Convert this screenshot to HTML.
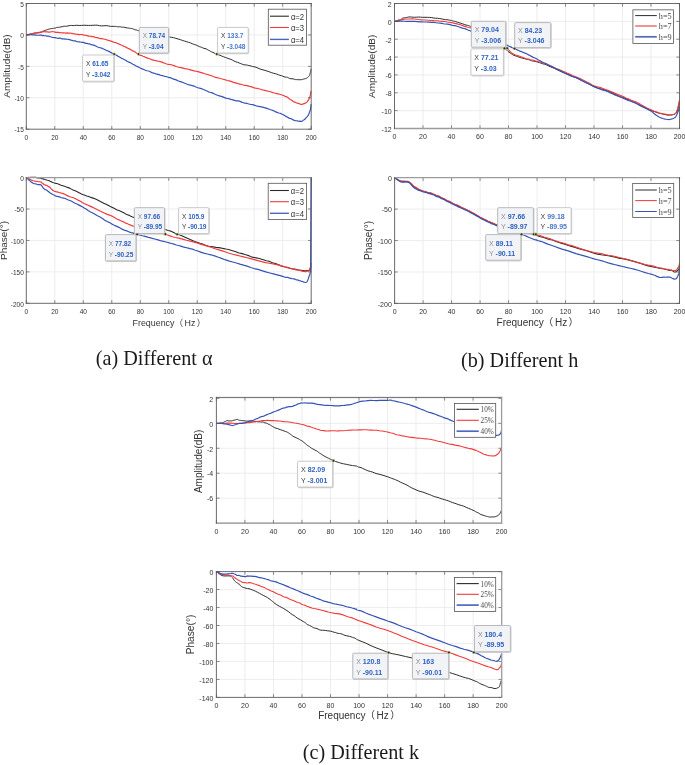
<!DOCTYPE html>
<html><head><meta charset="utf-8"><title>Frequency response</title>
<style>html,body{margin:0;padding:0;background:#fff;}svg{display:block;filter:blur(0.3px);}</style>
</head><body>
<svg width="685" height="765" viewBox="0 0 685 765" font-family='"Liberation Sans", Arial, sans-serif'>
<rect width="685" height="765" fill="#ffffff"/>
<line x1="54.79" y1="3.50" x2="54.79" y2="129.20" stroke="#e9e9e9" stroke-width="0.8"/>
<line x1="83.28" y1="3.50" x2="83.28" y2="129.20" stroke="#e9e9e9" stroke-width="0.8"/>
<line x1="111.77" y1="3.50" x2="111.77" y2="129.20" stroke="#e9e9e9" stroke-width="0.8"/>
<line x1="140.26" y1="3.50" x2="140.26" y2="129.20" stroke="#e9e9e9" stroke-width="0.8"/>
<line x1="168.75" y1="3.50" x2="168.75" y2="129.20" stroke="#e9e9e9" stroke-width="0.8"/>
<line x1="197.24" y1="3.50" x2="197.24" y2="129.20" stroke="#e9e9e9" stroke-width="0.8"/>
<line x1="225.73" y1="3.50" x2="225.73" y2="129.20" stroke="#e9e9e9" stroke-width="0.8"/>
<line x1="254.22" y1="3.50" x2="254.22" y2="129.20" stroke="#e9e9e9" stroke-width="0.8"/>
<line x1="282.71" y1="3.50" x2="282.71" y2="129.20" stroke="#e9e9e9" stroke-width="0.8"/>
<line x1="26.30" y1="97.77" x2="311.20" y2="97.77" stroke="#e9e9e9" stroke-width="0.8"/>
<line x1="26.30" y1="66.35" x2="311.20" y2="66.35" stroke="#e9e9e9" stroke-width="0.8"/>
<line x1="26.30" y1="34.92" x2="311.20" y2="34.92" stroke="#e9e9e9" stroke-width="0.8"/>
<polyline fill="none" stroke="#2a2a2a" stroke-width="1.0" stroke-linejoin="round" points="26.30,34.92 26.85,34.95 27.58,34.82 28.45,34.46 29.42,34.26 30.44,34.14 31.47,34.05 32.48,33.80 33.42,33.32 34.34,33.13 35.29,33.21 36.26,33.09 37.22,32.79 38.16,32.44 39.03,32.35 39.84,32.29 40.55,32.12 41.12,32.18 41.59,31.99 41.97,31.47 42.30,31.27 42.62,31.47 42.95,31.52 43.34,31.17 43.82,30.86 44.38,30.63 44.98,30.33 45.62,30.15 46.29,30.07 46.98,29.85 47.68,29.51 48.39,29.23 49.09,29.07 49.80,28.95 50.52,28.70 51.25,28.56 51.99,28.64 52.74,28.56 53.50,28.28 54.28,28.12 55.07,28.18 55.88,27.96 56.69,27.47 57.51,27.30 58.34,27.34 59.20,27.29 60.07,27.10 60.98,26.85 61.91,26.74 62.86,26.54 63.80,26.27 64.75,26.26 65.73,26.33 66.76,26.20 67.86,25.96 69.04,25.71 70.32,25.44 71.71,25.46 73.21,25.60 74.79,25.44 76.43,25.28 78.12,25.38 79.84,25.49 81.57,25.42 83.28,25.28 85.00,25.25 86.75,25.36 88.53,25.45 90.32,25.39 92.13,25.32 93.93,25.27 95.74,25.13 97.52,25.23 99.34,25.65 101.22,25.90 103.12,25.82 105.00,25.68 106.85,25.69 108.61,25.99 110.26,26.32 111.77,26.37 113.11,26.37 114.29,26.41 115.37,26.35 116.36,26.52 117.32,26.79 118.27,26.79 119.26,26.71 120.32,26.78 121.44,27.07 122.58,27.21 123.74,27.17 124.91,27.43 126.07,27.77 127.22,27.93 128.34,28.07 129.43,28.21 130.47,28.34 131.46,28.54 132.42,28.70 133.37,29.00 134.32,29.54 135.30,29.82 136.33,29.98 137.41,30.33 138.56,30.66 139.76,30.89 141.00,31.20 142.27,31.60 143.56,31.97 144.84,32.24 146.12,32.35 147.38,32.44 148.62,32.69 149.85,33.06 151.08,33.55 152.31,34.00 153.54,34.28 154.79,34.51 156.06,34.64 157.35,34.77 158.65,35.11 159.95,35.26 161.25,35.16 162.57,35.22 163.93,35.60 165.33,36.07 166.79,36.27 168.32,36.54 169.94,37.05 171.63,37.38 173.38,37.63 175.18,38.14 177.01,38.72 178.86,39.17 180.72,39.77 182.57,40.49 184.47,41.05 186.44,41.64 188.47,42.29 190.49,42.94 192.48,43.74 194.39,44.50 196.18,45.06 197.81,45.77 199.26,46.57 200.57,47.00 201.76,47.33 202.87,47.93 203.93,48.37 204.99,48.49 206.07,48.80 207.21,49.48 208.37,50.15 209.48,50.67 210.59,51.31 211.70,51.93 212.85,52.34 214.06,52.90 215.35,53.71 216.76,54.34 218.30,54.74 219.96,55.30 221.70,56.04 223.51,56.76 225.35,57.43 227.18,58.12 228.98,58.75 230.72,59.28 232.41,60.08 234.12,61.10 235.81,61.77 237.49,62.29 239.14,62.94 240.76,63.57 242.32,64.25 243.82,64.72 245.21,64.88 246.48,64.96 247.68,65.22 248.85,65.56 250.04,65.74 251.30,66.16 252.68,66.61 254.22,66.79 255.96,67.22 257.87,68.10 259.89,68.95 261.98,69.55 264.09,70.13 266.17,70.77 268.17,71.40 270.03,72.07 271.79,72.77 273.50,73.26 275.17,73.61 276.78,74.14 278.34,74.77 279.85,75.24 281.31,75.65 282.71,76.16 284.03,76.78 285.28,77.11 286.45,77.13 287.58,77.39 288.68,77.97 289.76,78.54 290.86,78.76 291.97,78.72 293.12,78.87 294.29,79.25 295.46,79.59 296.63,79.65 297.76,79.61 298.84,79.72 299.86,79.73 300.80,79.69 301.66,79.66 302.44,79.46 303.18,79.26 303.85,78.95 304.49,78.84 305.09,78.83 305.66,78.57 306.21,78.37 306.74,78.19 307.22,77.86 307.67,77.37 308.08,76.89 308.47,76.59 308.83,76.34 309.17,75.94 309.49,75.46 309.79,74.67 310.07,73.59 310.32,72.60 310.55,71.54 310.75,70.51 310.93,69.85 311.08,69.50 311.20,68.86"/>
<polyline fill="none" stroke="#f23a3a" stroke-width="1.2" stroke-linejoin="round" points="26.30,34.92 26.73,35.03 27.28,34.51 27.93,34.34 28.67,34.49 29.46,34.42 30.30,34.10 31.15,33.81 32.00,33.70 32.86,33.59 33.77,33.30 34.72,32.99 35.70,32.82 36.70,32.76 37.70,32.80 38.70,32.84 39.69,32.67 40.68,32.36 41.68,32.11 42.69,31.89 43.70,31.70 44.71,31.71 45.71,31.84 46.70,31.87 47.67,31.96 48.62,32.12 49.57,32.07 50.51,31.94 51.44,31.77 52.36,31.69 53.28,31.76 54.18,31.86 55.07,32.13 55.95,32.40 56.79,32.30 57.61,32.22 58.43,32.46 59.26,32.62 60.11,32.67 60.99,32.77 61.91,32.81 62.91,32.76 63.96,32.78 65.06,33.04 66.18,33.07 67.28,32.92 68.36,33.08 69.38,33.22 70.32,33.20 71.16,33.26 71.93,33.45 72.64,33.64 73.32,33.72 73.99,33.77 74.67,33.86 75.38,34.10 76.16,34.24 76.99,34.18 77.85,34.32 78.73,34.57 79.64,34.62 80.55,34.52 81.47,34.50 82.38,34.69 83.28,34.90 84.18,35.05 85.08,35.27 85.99,35.45 86.89,35.62 87.79,35.80 88.68,36.06 89.55,36.21 90.40,36.23 91.22,36.39 91.99,36.60 92.74,36.71 93.48,36.71 94.23,36.84 95.00,37.23 95.81,37.60 96.67,37.62 97.59,37.67 98.56,38.07 99.56,38.44 100.59,38.56 101.62,38.62 102.65,38.79 103.67,38.97 104.65,39.24 105.60,39.45 106.55,39.75 107.49,40.12 108.42,40.29 109.34,40.66 110.26,41.05 111.16,41.13 112.05,41.42 112.94,41.91 113.82,42.22 114.69,42.40 115.54,42.54 116.40,42.81 117.24,43.23 118.07,43.61 118.89,43.99 119.70,44.39 120.49,44.68 121.27,44.99 122.04,45.25 122.81,45.69 123.59,46.23 124.37,46.45 125.16,46.82 125.96,47.38 126.78,47.68 127.59,48.08 128.41,48.65 129.23,48.88 130.06,49.13 130.89,49.74 131.71,50.39 132.55,50.82 133.39,51.09 134.24,51.46 135.09,51.95 135.93,52.62 136.77,53.32 137.60,53.86 138.41,54.32 139.20,54.72 139.96,55.09 140.72,55.36 141.46,55.52 142.21,55.80 142.97,56.21 143.74,56.45 144.53,56.69 145.34,57.23 146.15,57.66 146.96,57.85 147.78,58.17 148.63,58.53 149.50,58.77 150.42,59.13 151.37,59.57 152.37,59.83 153.42,60.09 154.49,60.30 155.60,60.50 156.73,60.86 157.88,61.08 159.04,61.25 160.20,61.56 161.36,61.91 162.52,62.33 163.68,62.83 164.86,63.30 166.07,63.79 167.33,64.22 168.65,64.41 170.03,64.51 171.49,64.80 173.01,65.27 174.58,65.85 176.20,66.46 177.86,67.01 179.55,67.39 181.26,67.69 183.00,68.15 184.77,68.58 186.60,68.82 188.46,69.26 190.36,69.81 192.26,70.35 194.14,70.91 196.00,71.26 197.81,71.57 199.57,72.06 201.30,72.57 203.00,73.12 204.68,73.72 206.37,74.22 208.05,74.70 209.76,75.22 211.49,75.77 213.24,76.52 215.01,77.19 216.79,77.59 218.57,77.97 220.36,78.51 222.16,78.99 223.95,79.39 225.73,79.98 227.51,80.54 229.29,80.88 231.07,81.41 232.85,82.08 234.63,82.55 236.41,83.08 238.19,83.69 239.97,84.05 241.76,84.46 243.54,85.04 245.32,85.31 247.10,85.63 248.88,86.19 250.66,86.60 252.44,87.15 254.22,87.87 256.00,88.24 257.78,88.47 259.56,88.98 261.34,89.55 263.12,89.98 264.90,90.43 266.68,90.90 268.46,91.27 270.29,91.74 272.19,92.42 274.12,92.98 276.03,93.34 277.89,93.80 279.65,94.25 281.27,94.73 282.71,95.22 283.96,95.75 285.04,96.30 286.00,96.63 286.85,96.91 287.63,97.31 288.37,97.94 289.09,98.69 289.83,99.28 290.54,99.75 291.18,99.97 291.76,100.18 292.33,100.75 292.89,101.33 293.47,101.65 294.11,101.86 294.82,102.10 295.62,102.51 296.51,102.90 297.44,103.11 298.40,103.39 299.35,103.78 300.28,104.15 301.15,104.35 301.94,104.40 302.66,104.22 303.33,103.84 303.96,103.57 304.56,103.39 305.12,103.10 305.65,102.86 306.16,102.71 306.64,102.42 307.09,101.97 307.51,101.38 307.90,100.68 308.25,100.25 308.59,99.83 308.90,99.04 309.20,98.25 309.49,97.47 309.77,96.79 310.04,96.26 310.29,95.40 310.52,94.14 310.73,92.88 310.92,91.93 311.08,91.28 311.20,90.86"/>
<polyline fill="none" stroke="#3553b5" stroke-width="1.2" stroke-linejoin="round" points="26.30,34.92 26.84,34.85 27.55,34.89 28.39,34.95 29.33,34.88 30.33,34.62 31.37,34.65 32.42,34.89 33.42,34.83 34.44,34.89 35.53,35.15 36.65,35.22 37.79,35.23 38.91,35.25 40.00,35.20 41.03,35.19 41.97,35.43 42.81,35.65 43.55,35.68 44.24,35.77 44.89,35.75 45.53,35.72 46.19,35.97 46.89,36.10 47.67,36.01 48.52,36.16 49.41,36.55 50.35,36.79 51.30,37.03 52.26,37.31 53.22,37.50 54.16,37.61 55.07,37.68 55.95,37.82 56.79,38.01 57.61,38.28 58.43,38.33 59.26,38.11 60.11,38.11 60.99,38.45 61.91,38.83 62.91,38.94 63.96,38.96 65.06,39.03 66.18,39.15 67.28,39.26 68.36,39.41 69.38,39.64 70.32,39.91 71.16,40.16 71.93,40.34 72.64,40.55 73.32,40.76 73.99,40.90 74.67,40.85 75.38,40.88 76.16,41.28 76.99,41.64 77.85,41.74 78.73,41.80 79.64,41.86 80.55,41.99 81.47,42.29 82.38,42.45 83.28,42.41 84.18,42.63 85.08,43.18 85.99,43.43 86.89,43.44 87.79,43.69 88.68,43.84 89.55,43.90 90.40,44.24 91.22,44.74 91.99,44.92 92.74,44.91 93.48,45.07 94.23,45.33 95.00,45.67 95.81,46.05 96.67,46.54 97.58,46.95 98.51,47.25 99.47,47.61 100.46,47.78 101.47,48.08 102.51,48.59 103.57,48.96 104.65,49.43 105.77,50.11 106.95,50.67 108.17,51.03 109.41,51.62 110.64,52.40 111.85,53.04 113.01,53.75 114.12,54.29 115.16,54.58 116.15,55.04 117.11,55.63 118.04,56.20 118.96,56.72 119.87,57.22 120.80,57.83 121.74,58.41 122.69,58.78 123.61,59.22 124.53,59.73 125.45,60.10 126.39,60.69 127.36,61.44 128.37,61.94 129.43,62.31 130.54,62.77 131.69,63.51 132.86,64.20 134.07,64.80 135.32,65.62 136.60,66.30 137.91,66.83 139.26,67.56 140.69,68.29 142.21,68.90 143.78,69.51 145.38,70.23 146.97,70.76 148.52,71.03 150.00,71.56 151.37,72.41 152.63,72.96 153.79,73.15 154.88,73.47 155.93,73.86 156.96,74.09 158.00,74.36 159.07,74.67 160.20,75.07 161.36,75.44 162.52,75.67 163.68,76.01 164.86,76.33 166.07,76.51 167.33,76.95 168.65,77.43 170.03,77.69 171.49,78.19 173.01,78.87 174.58,79.34 176.20,79.89 177.86,80.70 179.55,81.40 181.26,81.89 183.00,82.48 184.77,83.26 186.60,84.00 188.46,84.62 190.36,85.16 192.26,85.59 194.14,86.18 196.00,87.03 197.81,87.73 199.57,88.17 201.30,88.59 203.00,89.23 204.68,89.97 206.37,90.70 208.05,91.57 209.76,92.24 211.49,92.63 213.24,93.32 215.01,94.24 216.79,95.03 218.57,95.66 220.36,96.13 222.16,96.64 223.95,97.40 225.73,98.12 227.51,98.54 229.29,98.95 231.07,99.43 232.85,99.86 234.63,100.36 236.41,100.81 238.19,100.95 239.97,101.35 241.76,102.15 243.54,102.79 245.32,103.13 247.10,103.45 248.88,103.99 250.66,104.38 252.44,104.63 254.22,105.19 256.03,105.79 257.87,106.20 259.73,106.55 261.58,106.94 263.40,107.40 265.17,107.84 266.87,108.36 268.46,108.98 269.96,109.55 271.38,110.00 272.72,110.41 274.01,111.01 275.26,111.60 276.47,112.10 277.67,112.61 278.86,113.02 280.03,113.27 281.15,113.65 282.24,114.29 283.31,114.79 284.36,115.37 285.41,116.10 286.47,116.64 287.55,117.20 288.67,117.86 289.81,118.32 290.96,118.65 292.11,119.22 293.24,119.88 294.34,120.35 295.40,120.66 296.39,120.77 297.31,120.86 298.19,121.16 299.03,121.28 299.83,121.19 300.60,121.28 301.35,121.32 302.08,121.10 302.80,120.63 303.50,120.05 304.20,119.75 304.88,119.28 305.54,118.43 306.16,117.71 306.75,117.16 307.29,116.59 307.78,115.97 308.22,115.39 308.60,114.69 308.94,113.73 309.24,112.89 309.51,112.21 309.76,111.48 309.99,110.92 310.20,110.54 310.40,109.72 310.58,108.56 310.72,107.62 310.85,106.72 310.96,105.83 311.05,105.13 311.13,104.60 311.20,104.06"/>
<line x1="26.30" y1="129.20" x2="26.30" y2="126.00" stroke="#5a5a5a" stroke-width="0.7"/>
<line x1="26.30" y1="3.50" x2="26.30" y2="6.70" stroke="#5a5a5a" stroke-width="0.7"/>
<line x1="54.79" y1="129.20" x2="54.79" y2="126.00" stroke="#5a5a5a" stroke-width="0.7"/>
<line x1="54.79" y1="3.50" x2="54.79" y2="6.70" stroke="#5a5a5a" stroke-width="0.7"/>
<line x1="83.28" y1="129.20" x2="83.28" y2="126.00" stroke="#5a5a5a" stroke-width="0.7"/>
<line x1="83.28" y1="3.50" x2="83.28" y2="6.70" stroke="#5a5a5a" stroke-width="0.7"/>
<line x1="111.77" y1="129.20" x2="111.77" y2="126.00" stroke="#5a5a5a" stroke-width="0.7"/>
<line x1="111.77" y1="3.50" x2="111.77" y2="6.70" stroke="#5a5a5a" stroke-width="0.7"/>
<line x1="140.26" y1="129.20" x2="140.26" y2="126.00" stroke="#5a5a5a" stroke-width="0.7"/>
<line x1="140.26" y1="3.50" x2="140.26" y2="6.70" stroke="#5a5a5a" stroke-width="0.7"/>
<line x1="168.75" y1="129.20" x2="168.75" y2="126.00" stroke="#5a5a5a" stroke-width="0.7"/>
<line x1="168.75" y1="3.50" x2="168.75" y2="6.70" stroke="#5a5a5a" stroke-width="0.7"/>
<line x1="197.24" y1="129.20" x2="197.24" y2="126.00" stroke="#5a5a5a" stroke-width="0.7"/>
<line x1="197.24" y1="3.50" x2="197.24" y2="6.70" stroke="#5a5a5a" stroke-width="0.7"/>
<line x1="225.73" y1="129.20" x2="225.73" y2="126.00" stroke="#5a5a5a" stroke-width="0.7"/>
<line x1="225.73" y1="3.50" x2="225.73" y2="6.70" stroke="#5a5a5a" stroke-width="0.7"/>
<line x1="254.22" y1="129.20" x2="254.22" y2="126.00" stroke="#5a5a5a" stroke-width="0.7"/>
<line x1="254.22" y1="3.50" x2="254.22" y2="6.70" stroke="#5a5a5a" stroke-width="0.7"/>
<line x1="282.71" y1="129.20" x2="282.71" y2="126.00" stroke="#5a5a5a" stroke-width="0.7"/>
<line x1="282.71" y1="3.50" x2="282.71" y2="6.70" stroke="#5a5a5a" stroke-width="0.7"/>
<line x1="311.20" y1="129.20" x2="311.20" y2="126.00" stroke="#5a5a5a" stroke-width="0.7"/>
<line x1="311.20" y1="3.50" x2="311.20" y2="6.70" stroke="#5a5a5a" stroke-width="0.7"/>
<line x1="26.30" y1="129.20" x2="29.50" y2="129.20" stroke="#5a5a5a" stroke-width="0.7"/>
<line x1="311.20" y1="129.20" x2="308.00" y2="129.20" stroke="#5a5a5a" stroke-width="0.7"/>
<line x1="26.30" y1="97.77" x2="29.50" y2="97.77" stroke="#5a5a5a" stroke-width="0.7"/>
<line x1="311.20" y1="97.77" x2="308.00" y2="97.77" stroke="#5a5a5a" stroke-width="0.7"/>
<line x1="26.30" y1="66.35" x2="29.50" y2="66.35" stroke="#5a5a5a" stroke-width="0.7"/>
<line x1="311.20" y1="66.35" x2="308.00" y2="66.35" stroke="#5a5a5a" stroke-width="0.7"/>
<line x1="26.30" y1="34.92" x2="29.50" y2="34.92" stroke="#5a5a5a" stroke-width="0.7"/>
<line x1="311.20" y1="34.92" x2="308.00" y2="34.92" stroke="#5a5a5a" stroke-width="0.7"/>
<line x1="26.30" y1="3.50" x2="29.50" y2="3.50" stroke="#5a5a5a" stroke-width="0.7"/>
<line x1="311.20" y1="3.50" x2="308.00" y2="3.50" stroke="#5a5a5a" stroke-width="0.7"/>
<line x1="26.30" y1="3.50" x2="311.20" y2="3.50" stroke="#5a5a5a" stroke-width="0.9" stroke-linecap="square"/>
<line x1="26.30" y1="129.20" x2="311.20" y2="129.20" stroke="#5a5a5a" stroke-width="0.9" stroke-linecap="square"/>
<line x1="26.30" y1="3.50" x2="26.30" y2="129.20" stroke="#5a5a5a" stroke-width="0.9" stroke-linecap="square"/>
<line x1="311.20" y1="3.50" x2="311.20" y2="129.20" stroke="#5a5a5a" stroke-width="0.9" stroke-linecap="square"/>
<text transform="translate(26.30,139.80) scale(0.880,1)" font-size="7.4" text-anchor="middle" fill="#333333">0</text>
<text transform="translate(54.79,139.80) scale(0.880,1)" font-size="7.4" text-anchor="middle" fill="#333333">20</text>
<text transform="translate(83.28,139.80) scale(0.880,1)" font-size="7.4" text-anchor="middle" fill="#333333">40</text>
<text transform="translate(111.77,139.80) scale(0.880,1)" font-size="7.4" text-anchor="middle" fill="#333333">60</text>
<text transform="translate(140.26,139.80) scale(0.880,1)" font-size="7.4" text-anchor="middle" fill="#333333">80</text>
<text transform="translate(168.75,139.80) scale(0.880,1)" font-size="7.4" text-anchor="middle" fill="#333333">100</text>
<text transform="translate(197.24,139.80) scale(0.880,1)" font-size="7.4" text-anchor="middle" fill="#333333">120</text>
<text transform="translate(225.73,139.80) scale(0.880,1)" font-size="7.4" text-anchor="middle" fill="#333333">140</text>
<text transform="translate(254.22,139.80) scale(0.880,1)" font-size="7.4" text-anchor="middle" fill="#333333">160</text>
<text transform="translate(282.71,139.80) scale(0.880,1)" font-size="7.4" text-anchor="middle" fill="#333333">180</text>
<text transform="translate(311.20,139.80) scale(0.880,1)" font-size="7.4" text-anchor="middle" fill="#333333">200</text>
<text transform="translate(23.80,132.36) scale(0.880,1)" font-size="7.4" text-anchor="end" fill="#333333">-15</text>
<text transform="translate(23.80,100.94) scale(0.880,1)" font-size="7.4" text-anchor="end" fill="#333333">-10</text>
<text transform="translate(23.80,69.51) scale(0.880,1)" font-size="7.4" text-anchor="end" fill="#333333">-5</text>
<text transform="translate(23.80,38.09) scale(0.880,1)" font-size="7.4" text-anchor="end" fill="#333333">0</text>
<text transform="translate(23.80,6.66) scale(0.880,1)" font-size="7.4" text-anchor="end" fill="#333333">5</text>
<text transform="translate(9.90,66.00) scale(0.880,1) rotate(-90)" font-size="10.0" text-anchor="middle" fill="#333333">Amplitude(dB)</text>
<rect x="268.30" y="9.20" width="38.10" height="36.00" fill="#ffffff" stroke="#555555" stroke-width="0.8"/>
<line x1="270.00" y1="16.20" x2="288.90" y2="16.20" stroke="#2a2a2a" stroke-width="1.1"/>
<text transform="translate(290.90,19.70) scale(0.840,1)" font-size="9.2" fill="#333333" font-family='"Liberation Sans", Arial, sans-serif'>α=2</text>
<line x1="270.00" y1="27.50" x2="288.90" y2="27.50" stroke="#f23a3a" stroke-width="1.1"/>
<text transform="translate(290.90,31.00) scale(0.840,1)" font-size="9.2" fill="#333333" font-family='"Liberation Sans", Arial, sans-serif'>α=3</text>
<line x1="270.00" y1="39.40" x2="288.90" y2="39.40" stroke="#4a64c0" stroke-width="1.4"/>
<text transform="translate(290.90,42.90) scale(0.840,1)" font-size="9.2" fill="#333333" font-family='"Liberation Sans", Arial, sans-serif'>α=4</text>
<rect x="83.10" y="55.60" width="31.15" height="26.20" rx="1.2" fill="none" stroke="#d0d0d0" stroke-width="1.2"/>
<rect x="82.60" y="55.00" width="31.15" height="26.20" rx="1" fill="#ffffff" stroke="#c4c4c4" stroke-width="0.9"/>
<text x="86.00" y="66.21" font-size="6.5" fill="#3a3a3a">X <tspan fill="#2f62c0" font-weight="bold">61.65</tspan></text>
<text x="86.00" y="76.88" font-size="6.5" fill="#3a3a3a">Y <tspan fill="#2f62c0" font-weight="bold">-3.042</tspan></text>
<rect x="139.80" y="28.00" width="29.20" height="25.60" rx="1.2" fill="none" stroke="#d0d0d0" stroke-width="1.2"/>
<rect x="139.30" y="27.40" width="29.20" height="25.60" rx="1" fill="#f1f3f7" stroke="#b4b4b4" stroke-width="0.9"/>
<text x="142.70" y="38.36" font-size="6.5" fill="#8f8f8f">X <tspan fill="#2f62c0" font-weight="bold">78.74</tspan></text>
<text x="142.70" y="48.78" font-size="6.5" fill="#8f8f8f">Y <tspan fill="#2f62c0" font-weight="bold">-3.04</tspan></text>
<rect x="218.10" y="28.00" width="30.60" height="25.60" rx="1.2" fill="none" stroke="#d0d0d0" stroke-width="1.2"/>
<rect x="217.60" y="27.40" width="30.60" height="25.60" rx="1" fill="#ffffff" stroke="#c4c4c4" stroke-width="0.9"/>
<text x="221.00" y="38.36" font-size="6.5" fill="#3a3a3a">X <tspan fill="#4a78cc" font-weight="bold">133.7</tspan></text>
<text x="221.00" y="48.78" font-size="6.5" fill="#3a3a3a">Y <tspan fill="#4a78cc" font-weight="bold">-3.048</tspan></text>
<line x1="423.00" y1="3.50" x2="423.00" y2="128.50" stroke="#e9e9e9" stroke-width="0.8"/>
<line x1="451.50" y1="3.50" x2="451.50" y2="128.50" stroke="#e9e9e9" stroke-width="0.8"/>
<line x1="480.00" y1="3.50" x2="480.00" y2="128.50" stroke="#e9e9e9" stroke-width="0.8"/>
<line x1="508.50" y1="3.50" x2="508.50" y2="128.50" stroke="#e9e9e9" stroke-width="0.8"/>
<line x1="537.00" y1="3.50" x2="537.00" y2="128.50" stroke="#e9e9e9" stroke-width="0.8"/>
<line x1="565.50" y1="3.50" x2="565.50" y2="128.50" stroke="#e9e9e9" stroke-width="0.8"/>
<line x1="594.00" y1="3.50" x2="594.00" y2="128.50" stroke="#e9e9e9" stroke-width="0.8"/>
<line x1="622.50" y1="3.50" x2="622.50" y2="128.50" stroke="#e9e9e9" stroke-width="0.8"/>
<line x1="651.00" y1="3.50" x2="651.00" y2="128.50" stroke="#e9e9e9" stroke-width="0.8"/>
<line x1="394.50" y1="110.64" x2="679.50" y2="110.64" stroke="#e9e9e9" stroke-width="0.8"/>
<line x1="394.50" y1="92.79" x2="679.50" y2="92.79" stroke="#e9e9e9" stroke-width="0.8"/>
<line x1="394.50" y1="74.93" x2="679.50" y2="74.93" stroke="#e9e9e9" stroke-width="0.8"/>
<line x1="394.50" y1="57.07" x2="679.50" y2="57.07" stroke="#e9e9e9" stroke-width="0.8"/>
<line x1="394.50" y1="39.21" x2="679.50" y2="39.21" stroke="#e9e9e9" stroke-width="0.8"/>
<line x1="394.50" y1="21.36" x2="679.50" y2="21.36" stroke="#e9e9e9" stroke-width="0.8"/>
<polyline fill="none" stroke="#2a2a2a" stroke-width="1.0" stroke-linejoin="round" points="394.50,21.36 394.92,21.05 395.47,20.97 396.13,20.79 396.87,20.61 397.65,20.63 398.43,20.66 399.20,20.49 399.92,20.12 400.55,19.69 401.14,19.33 401.70,18.91 402.28,18.43 402.89,18.04 403.59,17.85 404.39,17.82 405.33,17.68 406.39,17.49 407.53,17.26 408.75,16.99 410.06,16.94 411.46,17.08 412.97,17.20 414.58,17.28 416.30,17.20 418.21,17.05 420.33,17.16 422.59,17.33 424.93,17.31 427.29,17.33 429.61,17.44 431.81,17.65 433.83,18.02 435.71,18.27 437.52,18.29 439.26,18.47 440.93,18.81 442.53,19.09 444.07,19.38 445.54,19.61 446.94,19.71 448.22,19.89 449.35,20.14 450.38,20.29 451.37,20.42 452.35,20.77 453.38,21.12 454.50,21.25 455.77,21.58 457.26,22.16 458.93,22.68 460.71,23.25 462.53,23.82 464.32,24.44 466.00,25.04 467.50,25.39 468.74,25.68 469.69,26.03 470.39,26.31 470.92,26.45 471.33,26.63 471.70,26.84 472.09,26.94 472.55,27.18 473.16,27.42 473.90,27.44 474.69,27.58 475.54,28.01 476.41,28.50 477.31,28.79 478.21,28.98 479.11,29.28 480.00,29.69 480.88,30.10 481.76,30.57 482.65,31.24 483.54,31.93 484.44,32.46 485.34,32.97 486.23,33.40 487.12,33.73 488.03,34.38 488.94,35.28 489.86,35.93 490.78,36.55 491.68,37.31 492.57,38.02 493.43,38.63 494.25,39.14 495.04,39.74 495.80,40.45 496.54,41.13 497.26,41.96 497.96,42.79 498.64,43.27 499.30,43.69 499.95,44.26 500.55,44.96 501.09,45.60 501.59,45.98 502.09,46.26 502.60,46.77 503.16,47.40 503.79,47.83 504.52,48.21 505.33,48.80 506.19,49.55 507.09,50.49 508.04,51.44 509.07,52.17 510.17,52.94 511.36,53.82 512.63,54.66 514.06,55.38 515.65,55.89 517.35,56.51 519.12,57.17 520.89,57.72 522.62,58.27 524.25,58.62 525.74,58.92 527.06,59.26 528.24,59.56 529.33,59.88 530.37,60.27 531.42,60.72 532.51,61.03 533.69,61.13 535.00,61.32 536.43,61.73 537.91,62.18 539.45,62.60 541.05,63.18 542.72,63.79 544.45,64.18 546.25,64.80 548.12,65.73 550.11,66.64 552.26,67.53 554.50,68.48 556.80,69.55 559.10,70.63 561.34,71.65 563.50,72.58 565.50,73.29 567.34,73.89 569.06,74.68 570.68,75.58 572.26,76.33 573.82,76.86 575.40,77.35 577.03,78.08 578.75,78.93 580.58,79.81 582.47,80.75 584.41,81.72 586.38,82.77 588.34,83.76 590.28,84.73 592.18,85.82 594.00,86.61 595.74,87.15 597.41,87.90 599.03,88.52 600.63,88.77 602.22,89.11 603.85,89.65 605.51,90.22 607.25,90.95 609.08,91.61 610.97,92.14 612.91,92.98 614.88,94.01 616.84,94.97 618.78,95.91 620.68,96.70 622.50,97.23 624.24,97.91 625.91,98.72 627.53,99.36 629.13,100.01 630.72,100.67 632.35,101.46 634.01,102.31 635.75,103.07 637.59,103.92 639.52,104.84 641.51,105.78 643.52,106.83 645.51,107.94 647.44,109.05 649.28,109.95 651.00,110.60 652.60,111.11 654.12,111.49 655.57,111.97 656.96,112.56 658.29,113.04 659.56,113.43 660.79,113.61 661.97,113.72 663.10,114.07 664.15,114.47 665.15,114.60 666.10,114.72 667.01,115.08 667.90,115.19 668.78,115.05 669.67,115.03 670.56,115.07 671.46,115.05 672.35,114.85 673.22,114.63 674.05,114.55 674.84,114.24 675.57,113.47 676.22,112.69 676.81,111.87 677.35,110.61 677.84,108.92 678.27,107.20 678.66,105.64 678.99,104.02 679.27,102.60 679.50,101.71"/>
<polyline fill="none" stroke="#f23a3a" stroke-width="1.1" stroke-linejoin="round" points="394.50,21.36 394.98,21.37 395.58,21.23 396.29,21.02 397.10,20.73 398.00,20.33 398.96,19.87 399.99,19.73 401.06,19.75 402.13,19.64 403.20,19.42 404.31,19.14 405.51,19.01 406.82,18.99 408.30,19.04 409.97,19.02 411.88,18.91 414.13,19.00 416.69,19.32 419.49,19.73 422.44,19.90 425.44,20.00 428.39,20.25 431.22,20.45 433.83,20.64 436.23,20.72 438.53,20.92 440.73,21.25 442.88,21.34 444.99,21.55 447.09,22.04 449.20,22.33 451.36,22.59 453.58,23.12 455.86,23.66 458.16,24.16 460.44,24.81 462.68,25.61 464.83,26.36 466.86,27.04 468.74,27.53 470.47,27.84 472.08,28.23 473.59,28.65 475.01,29.07 476.35,29.55 477.62,30.13 478.83,30.63 480.00,31.05 481.09,31.57 482.07,32.00 482.97,32.44 483.82,32.97 484.63,33.34 485.44,33.70 486.26,34.24 487.12,34.74 488.02,35.26 488.91,35.88 489.80,36.43 490.69,37.16 491.58,37.81 492.47,38.31 493.36,39.01 494.25,39.68 495.15,40.24 496.06,40.78 496.98,41.43 497.90,42.34 498.80,43.20 499.69,43.84 500.55,44.57 501.38,45.30 502.16,45.71 502.92,45.90 503.65,46.18 504.36,46.61 505.05,46.94 505.74,47.21 506.43,47.73 507.13,48.36 507.78,48.81 508.35,49.31 508.88,50.00 509.42,50.60 510.02,51.30 510.73,52.21 511.58,52.97 512.63,53.59 513.93,54.30 515.47,54.92 517.16,55.47 518.95,56.09 520.77,56.69 522.56,57.26 524.24,57.93 525.74,58.68 527.06,59.13 528.24,59.16 529.33,59.36 530.37,59.78 531.42,59.95 532.51,59.99 533.69,60.22 535.00,60.69 536.43,61.15 537.91,61.45 539.45,61.72 541.05,62.20 542.72,62.78 544.45,63.25 546.25,63.94 548.12,64.71 550.11,65.44 552.26,66.49 554.50,67.63 556.80,68.64 559.10,69.58 561.34,70.46 563.50,71.39 565.50,72.35 567.34,73.23 569.06,73.88 570.68,74.58 572.26,75.39 573.82,76.07 575.40,76.64 577.03,77.17 578.75,77.90 580.58,78.83 582.47,79.71 584.41,80.64 586.38,81.65 588.34,82.65 590.28,83.79 592.18,84.97 594.00,85.83 595.74,86.37 597.41,86.83 599.03,87.21 600.63,87.60 602.22,88.18 603.85,88.89 605.51,89.46 607.25,90.00 609.08,90.77 610.97,91.60 612.91,92.37 614.88,93.21 616.84,94.01 618.78,94.79 620.68,95.59 622.50,96.31 624.24,97.09 625.91,97.90 627.53,98.51 629.13,99.13 630.72,99.90 632.35,100.59 634.01,101.15 635.75,101.83 637.59,102.76 639.52,103.82 641.51,104.93 643.52,106.07 645.51,107.18 647.44,108.22 649.28,109.07 651.00,109.77 652.60,110.48 654.12,111.16 655.57,111.63 656.96,112.00 658.29,112.49 659.56,112.91 660.79,113.23 661.97,113.61 663.10,113.87 664.15,113.99 665.15,114.10 666.10,114.30 667.01,114.66 667.90,114.84 668.78,114.78 669.67,114.77 670.56,114.78 671.46,114.66 672.35,114.51 673.22,114.47 674.05,114.28 674.84,113.85 675.57,113.25 676.22,112.51 676.81,111.42 677.35,109.87 677.84,107.96 678.27,105.85 678.66,103.93 678.99,102.36 679.27,100.96 679.50,99.93"/>
<polyline fill="none" stroke="#3553b5" stroke-width="1.2" stroke-linejoin="round" points="394.50,21.36 395.81,21.52 397.52,21.34 399.55,21.13 401.82,21.09 404.27,21.24 406.81,21.34 409.37,21.37 411.88,21.41 414.46,21.47 417.21,21.57 420.07,21.78 422.99,21.94 425.89,21.99 428.71,22.18 431.38,22.34 433.83,22.45 436.07,22.73 438.16,22.99 440.13,23.15 442.00,23.46 443.80,23.78 445.56,23.99 447.31,24.09 449.08,24.36 450.86,24.94 452.64,25.41 454.39,25.66 456.11,25.95 457.78,26.47 459.38,27.05 460.91,27.57 462.33,28.11 463.63,28.42 464.82,28.67 465.91,29.08 466.94,29.52 467.94,30.03 468.94,30.43 469.95,30.69 471.02,31.09 472.13,31.59 473.26,32.11 474.39,32.48 475.52,32.70 476.65,33.18 477.78,33.75 478.90,34.23 480.00,34.67 481.09,35.18 482.17,35.81 483.24,36.27 484.30,36.67 485.36,37.24 486.42,37.70 487.48,38.14 488.55,38.64 489.62,39.06 490.68,39.61 491.74,40.30 492.80,40.70 493.86,41.01 494.93,41.46 496.01,41.79 497.10,42.27 498.21,42.83 499.33,43.09 500.46,43.23 501.59,43.48 502.73,43.73 503.86,44.09 504.98,44.51 506.08,44.75 507.14,45.18 508.16,45.72 509.16,46.20 510.16,46.67 511.18,47.12 512.23,47.74 513.34,48.31 514.53,48.79 515.80,49.30 517.14,49.83 518.53,50.47 519.96,51.09 521.41,51.60 522.87,52.21 524.32,52.89 525.74,53.43 527.15,54.06 528.55,54.86 529.95,55.58 531.36,56.36 532.77,57.14 534.17,57.69 535.59,58.28 537.00,59.10 538.38,59.93 539.71,60.58 541.01,61.18 542.33,61.96 543.70,62.71 545.15,63.29 546.70,64.08 548.40,65.07 550.29,65.95 552.36,66.87 554.56,68.01 556.83,69.15 559.12,70.23 561.36,71.36 563.51,72.52 565.50,73.54 567.33,74.33 569.04,75.14 570.66,75.94 572.24,76.48 573.81,76.91 575.39,77.47 577.03,78.11 578.75,78.88 580.58,79.87 582.47,81.00 584.41,82.03 586.38,82.84 588.34,83.76 590.28,84.82 592.18,85.71 594.00,86.60 595.74,87.47 597.41,88.09 599.03,88.67 600.63,89.27 602.22,89.89 603.85,90.34 605.51,90.64 607.25,91.34 609.08,92.32 610.97,93.11 612.91,93.91 614.88,94.89 616.84,95.80 618.78,96.56 620.68,97.27 622.50,97.97 624.24,98.68 625.91,99.39 627.53,100.15 629.13,100.76 630.72,101.30 632.35,101.94 634.01,102.54 635.75,103.31 637.62,104.33 639.63,105.39 641.71,106.46 643.79,107.48 645.83,108.37 647.75,109.29 649.50,110.23 651.00,111.02 652.22,111.88 653.20,112.79 653.99,113.49 654.68,114.02 655.31,114.48 655.96,115.06 656.69,115.56 657.56,116.00 658.55,116.69 659.61,117.28 660.71,117.69 661.84,118.16 662.99,118.51 664.14,118.83 665.28,119.11 666.39,119.24 667.51,119.48 668.67,119.56 669.85,119.40 671.01,119.20 672.14,118.90 673.21,118.54 674.20,118.08 675.08,117.46 675.87,116.53 676.59,115.21 677.25,113.54 677.83,112.00 678.35,110.72 678.81,109.37 679.19,108.04 679.50,107.25"/>
<line x1="394.50" y1="128.50" x2="394.50" y2="125.30" stroke="#5a5a5a" stroke-width="0.7"/>
<line x1="394.50" y1="3.50" x2="394.50" y2="6.70" stroke="#5a5a5a" stroke-width="0.7"/>
<line x1="423.00" y1="128.50" x2="423.00" y2="125.30" stroke="#5a5a5a" stroke-width="0.7"/>
<line x1="423.00" y1="3.50" x2="423.00" y2="6.70" stroke="#5a5a5a" stroke-width="0.7"/>
<line x1="451.50" y1="128.50" x2="451.50" y2="125.30" stroke="#5a5a5a" stroke-width="0.7"/>
<line x1="451.50" y1="3.50" x2="451.50" y2="6.70" stroke="#5a5a5a" stroke-width="0.7"/>
<line x1="480.00" y1="128.50" x2="480.00" y2="125.30" stroke="#5a5a5a" stroke-width="0.7"/>
<line x1="480.00" y1="3.50" x2="480.00" y2="6.70" stroke="#5a5a5a" stroke-width="0.7"/>
<line x1="508.50" y1="128.50" x2="508.50" y2="125.30" stroke="#5a5a5a" stroke-width="0.7"/>
<line x1="508.50" y1="3.50" x2="508.50" y2="6.70" stroke="#5a5a5a" stroke-width="0.7"/>
<line x1="537.00" y1="128.50" x2="537.00" y2="125.30" stroke="#5a5a5a" stroke-width="0.7"/>
<line x1="537.00" y1="3.50" x2="537.00" y2="6.70" stroke="#5a5a5a" stroke-width="0.7"/>
<line x1="565.50" y1="128.50" x2="565.50" y2="125.30" stroke="#5a5a5a" stroke-width="0.7"/>
<line x1="565.50" y1="3.50" x2="565.50" y2="6.70" stroke="#5a5a5a" stroke-width="0.7"/>
<line x1="594.00" y1="128.50" x2="594.00" y2="125.30" stroke="#5a5a5a" stroke-width="0.7"/>
<line x1="594.00" y1="3.50" x2="594.00" y2="6.70" stroke="#5a5a5a" stroke-width="0.7"/>
<line x1="622.50" y1="128.50" x2="622.50" y2="125.30" stroke="#5a5a5a" stroke-width="0.7"/>
<line x1="622.50" y1="3.50" x2="622.50" y2="6.70" stroke="#5a5a5a" stroke-width="0.7"/>
<line x1="651.00" y1="128.50" x2="651.00" y2="125.30" stroke="#5a5a5a" stroke-width="0.7"/>
<line x1="651.00" y1="3.50" x2="651.00" y2="6.70" stroke="#5a5a5a" stroke-width="0.7"/>
<line x1="679.50" y1="128.50" x2="679.50" y2="125.30" stroke="#5a5a5a" stroke-width="0.7"/>
<line x1="679.50" y1="3.50" x2="679.50" y2="6.70" stroke="#5a5a5a" stroke-width="0.7"/>
<line x1="394.50" y1="128.50" x2="397.70" y2="128.50" stroke="#5a5a5a" stroke-width="0.7"/>
<line x1="679.50" y1="128.50" x2="676.30" y2="128.50" stroke="#5a5a5a" stroke-width="0.7"/>
<line x1="394.50" y1="110.64" x2="397.70" y2="110.64" stroke="#5a5a5a" stroke-width="0.7"/>
<line x1="679.50" y1="110.64" x2="676.30" y2="110.64" stroke="#5a5a5a" stroke-width="0.7"/>
<line x1="394.50" y1="92.79" x2="397.70" y2="92.79" stroke="#5a5a5a" stroke-width="0.7"/>
<line x1="679.50" y1="92.79" x2="676.30" y2="92.79" stroke="#5a5a5a" stroke-width="0.7"/>
<line x1="394.50" y1="74.93" x2="397.70" y2="74.93" stroke="#5a5a5a" stroke-width="0.7"/>
<line x1="679.50" y1="74.93" x2="676.30" y2="74.93" stroke="#5a5a5a" stroke-width="0.7"/>
<line x1="394.50" y1="57.07" x2="397.70" y2="57.07" stroke="#5a5a5a" stroke-width="0.7"/>
<line x1="679.50" y1="57.07" x2="676.30" y2="57.07" stroke="#5a5a5a" stroke-width="0.7"/>
<line x1="394.50" y1="39.21" x2="397.70" y2="39.21" stroke="#5a5a5a" stroke-width="0.7"/>
<line x1="679.50" y1="39.21" x2="676.30" y2="39.21" stroke="#5a5a5a" stroke-width="0.7"/>
<line x1="394.50" y1="21.36" x2="397.70" y2="21.36" stroke="#5a5a5a" stroke-width="0.7"/>
<line x1="679.50" y1="21.36" x2="676.30" y2="21.36" stroke="#5a5a5a" stroke-width="0.7"/>
<line x1="394.50" y1="3.50" x2="397.70" y2="3.50" stroke="#5a5a5a" stroke-width="0.7"/>
<line x1="679.50" y1="3.50" x2="676.30" y2="3.50" stroke="#5a5a5a" stroke-width="0.7"/>
<line x1="394.50" y1="3.50" x2="679.50" y2="3.50" stroke="#5a5a5a" stroke-width="0.9" stroke-linecap="square"/>
<line x1="394.50" y1="128.50" x2="679.50" y2="128.50" stroke="#9c9c9c" stroke-width="1.3" stroke-linecap="square"/>
<line x1="394.50" y1="3.50" x2="394.50" y2="128.50" stroke="#5a5a5a" stroke-width="0.9" stroke-linecap="square"/>
<line x1="679.50" y1="3.50" x2="679.50" y2="128.50" stroke="#5a5a5a" stroke-width="0.9" stroke-linecap="square"/>
<text transform="translate(394.50,139.10) scale(0.950,1)" font-size="7.4" text-anchor="middle" fill="#333333">0</text>
<text transform="translate(423.00,139.10) scale(0.950,1)" font-size="7.4" text-anchor="middle" fill="#333333">20</text>
<text transform="translate(451.50,139.10) scale(0.950,1)" font-size="7.4" text-anchor="middle" fill="#333333">40</text>
<text transform="translate(480.00,139.10) scale(0.950,1)" font-size="7.4" text-anchor="middle" fill="#333333">60</text>
<text transform="translate(508.50,139.10) scale(0.950,1)" font-size="7.4" text-anchor="middle" fill="#333333">80</text>
<text transform="translate(537.00,139.10) scale(0.950,1)" font-size="7.4" text-anchor="middle" fill="#333333">100</text>
<text transform="translate(565.50,139.10) scale(0.950,1)" font-size="7.4" text-anchor="middle" fill="#333333">120</text>
<text transform="translate(594.00,139.10) scale(0.950,1)" font-size="7.4" text-anchor="middle" fill="#333333">140</text>
<text transform="translate(622.50,139.10) scale(0.950,1)" font-size="7.4" text-anchor="middle" fill="#333333">160</text>
<text transform="translate(651.00,139.10) scale(0.950,1)" font-size="7.4" text-anchor="middle" fill="#333333">180</text>
<text transform="translate(679.50,139.10) scale(0.950,1)" font-size="7.4" text-anchor="middle" fill="#333333">200</text>
<text transform="translate(391.70,132.06) scale(0.950,1)" font-size="7.4" text-anchor="end" fill="#333333">-12</text>
<text transform="translate(391.70,114.21) scale(0.950,1)" font-size="7.4" text-anchor="end" fill="#333333">-10</text>
<text transform="translate(391.70,96.35) scale(0.950,1)" font-size="7.4" text-anchor="end" fill="#333333">-8</text>
<text transform="translate(391.70,78.49) scale(0.950,1)" font-size="7.4" text-anchor="end" fill="#333333">-6</text>
<text transform="translate(391.70,60.64) scale(0.950,1)" font-size="7.4" text-anchor="end" fill="#333333">-4</text>
<text transform="translate(391.70,42.78) scale(0.950,1)" font-size="7.4" text-anchor="end" fill="#333333">-2</text>
<text transform="translate(391.70,24.92) scale(0.950,1)" font-size="7.4" text-anchor="end" fill="#333333">0</text>
<text transform="translate(391.70,7.06) scale(0.950,1)" font-size="7.4" text-anchor="end" fill="#333333">2</text>
<text transform="translate(375.10,66.40) scale(0.900,1) rotate(-90)" font-size="10.0" text-anchor="middle" fill="#333333">Amplitude(dB)</text>
<rect x="632.90" y="9.85" width="40.50" height="33.55" fill="#ffffff" stroke="#555555" stroke-width="0.8"/>
<line x1="635.20" y1="15.60" x2="656.80" y2="15.60" stroke="#2a2a2a" stroke-width="1.0"/>
<text transform="translate(658.80,18.72) scale(1.000,1)" font-size="8.2" fill="#4a4a4a" font-family='"Liberation Serif", "Times New Roman", serif'>h=5</text>
<line x1="635.20" y1="26.00" x2="656.80" y2="26.00" stroke="#f23a3a" stroke-width="1.1"/>
<text transform="translate(658.80,29.12) scale(1.000,1)" font-size="8.2" fill="#4a4a4a" font-family='"Liberation Serif", "Times New Roman", serif'>h=7</text>
<line x1="635.20" y1="36.80" x2="656.80" y2="36.80" stroke="#5068c0" stroke-width="1.7"/>
<text transform="translate(658.80,39.92) scale(1.000,1)" font-size="8.2" fill="#4a4a4a" font-family='"Liberation Serif", "Times New Roman", serif'>h=9</text>
<rect x="471.80" y="21.90" width="34.40" height="25.90" rx="1.2" fill="none" stroke="#d0d0d0" stroke-width="1.2"/>
<rect x="471.30" y="21.30" width="34.40" height="25.90" rx="1" fill="#f1f3f7" stroke="#b4b4b4" stroke-width="0.9"/>
<text x="474.70" y="32.39" font-size="7.0" fill="#8f8f8f">X <tspan fill="#2f62c0" font-weight="bold">79.04</tspan></text>
<text x="474.70" y="42.93" font-size="7.0" fill="#8f8f8f">Y <tspan fill="#2f62c0" font-weight="bold">-3.006</tspan></text>
<rect x="515.20" y="23.20" width="36.00" height="25.00" rx="1.2" fill="none" stroke="#d0d0d0" stroke-width="1.2"/>
<rect x="514.70" y="22.60" width="36.00" height="25.00" rx="1" fill="#f1f3f7" stroke="#b4b4b4" stroke-width="0.9"/>
<text x="518.10" y="33.30" font-size="7.0" fill="#8f8f8f">X <tspan fill="#2f62c0" font-weight="bold">84.23</tspan></text>
<text x="518.10" y="43.48" font-size="7.0" fill="#8f8f8f">Y <tspan fill="#2f62c0" font-weight="bold">-3.046</tspan></text>
<rect x="471.40" y="49.50" width="32.50" height="26.30" rx="1.2" fill="none" stroke="#d0d0d0" stroke-width="1.2"/>
<rect x="470.90" y="48.90" width="32.50" height="26.30" rx="1" fill="#ffffff" stroke="#c4c4c4" stroke-width="0.9"/>
<text x="474.30" y="60.16" font-size="7.0" fill="#3a3a3a">X <tspan fill="#2f62c0" font-weight="bold">77.21</tspan></text>
<text x="474.30" y="70.86" font-size="7.0" fill="#3a3a3a">Y <tspan fill="#2f62c0" font-weight="bold">-3.03</tspan></text>
<line x1="54.79" y1="177.60" x2="54.79" y2="303.30" stroke="#e9e9e9" stroke-width="0.8"/>
<line x1="83.28" y1="177.60" x2="83.28" y2="303.30" stroke="#e9e9e9" stroke-width="0.8"/>
<line x1="111.77" y1="177.60" x2="111.77" y2="303.30" stroke="#e9e9e9" stroke-width="0.8"/>
<line x1="140.26" y1="177.60" x2="140.26" y2="303.30" stroke="#e9e9e9" stroke-width="0.8"/>
<line x1="168.75" y1="177.60" x2="168.75" y2="303.30" stroke="#e9e9e9" stroke-width="0.8"/>
<line x1="197.24" y1="177.60" x2="197.24" y2="303.30" stroke="#e9e9e9" stroke-width="0.8"/>
<line x1="225.73" y1="177.60" x2="225.73" y2="303.30" stroke="#e9e9e9" stroke-width="0.8"/>
<line x1="254.22" y1="177.60" x2="254.22" y2="303.30" stroke="#e9e9e9" stroke-width="0.8"/>
<line x1="282.71" y1="177.60" x2="282.71" y2="303.30" stroke="#e9e9e9" stroke-width="0.8"/>
<line x1="26.30" y1="271.88" x2="311.20" y2="271.88" stroke="#e9e9e9" stroke-width="0.8"/>
<line x1="26.30" y1="240.45" x2="311.20" y2="240.45" stroke="#e9e9e9" stroke-width="0.8"/>
<line x1="26.30" y1="209.03" x2="311.20" y2="209.03" stroke="#e9e9e9" stroke-width="0.8"/>
<polyline fill="none" stroke="#2a2a2a" stroke-width="1.1" stroke-linejoin="round" points="26.30,177.60 26.85,177.43 27.57,177.48 28.44,177.42 29.40,177.45 30.42,177.40 31.45,177.33 32.47,177.37 33.42,177.38 34.33,177.40 35.25,177.37 36.17,177.41 37.09,177.70 38.02,177.87 38.95,177.77 39.89,177.87 40.83,178.32 41.79,178.70 42.76,178.84 43.75,179.11 44.74,179.46 45.72,179.70 46.68,180.08 47.62,180.32 48.52,180.45 49.34,180.75 50.05,181.23 50.72,181.63 51.38,181.83 52.08,182.17 52.88,182.55 53.81,182.84 54.93,183.15 56.25,183.41 57.72,183.80 59.32,184.47 61.01,185.18 62.78,185.71 64.58,186.25 66.39,186.96 68.18,187.61 69.99,188.38 71.87,189.38 73.78,190.25 75.72,191.02 77.66,191.99 79.58,193.03 81.46,194.00 83.28,194.71 85.02,195.34 86.71,195.98 88.35,196.40 89.98,196.98 91.60,197.63 93.24,198.11 94.93,198.67 96.67,199.43 98.49,200.46 100.37,201.51 102.28,202.47 104.22,203.43 106.16,204.34 108.08,205.35 109.95,206.34 111.77,207.19 113.56,208.07 115.35,209.09 117.12,209.94 118.87,210.60 120.56,211.23 122.18,211.90 123.72,212.76 125.16,213.65 126.44,214.38 127.55,214.83 128.55,215.11 129.50,215.60 130.44,216.11 131.45,216.49 132.56,217.03 133.85,217.58 135.28,218.12 136.80,218.93 138.39,219.79 140.06,220.41 141.79,221.08 143.60,222.01 145.46,222.81 147.38,223.36 149.43,224.09 151.64,225.01 153.95,225.89 156.31,226.67 158.66,227.26 160.93,227.74 163.08,228.35 165.05,229.14 166.75,230.01 168.23,230.55 169.56,230.75 170.83,231.14 172.13,231.73 173.53,232.41 175.13,233.22 177.01,234.02 179.24,234.74 181.77,235.68 184.50,236.90 187.33,238.17 190.18,239.48 192.93,240.73 195.51,241.66 197.81,242.41 199.82,243.16 201.62,243.72 203.27,244.21 204.82,244.93 206.32,245.56 207.82,245.99 209.39,246.31 211.06,246.54 212.83,246.79 214.65,247.13 216.50,247.50 218.37,247.66 220.24,247.86 222.10,248.23 223.93,248.62 225.73,249.00 227.48,249.32 229.19,249.70 230.88,250.20 232.56,250.74 234.24,251.26 235.93,251.85 237.65,252.60 239.41,253.08 241.20,253.35 243.01,253.85 244.83,254.47 246.68,255.00 248.54,255.62 250.42,256.49 252.31,257.16 254.22,257.51 256.17,257.86 258.18,258.24 260.21,258.76 262.26,259.41 264.29,260.10 266.28,260.74 268.20,261.08 270.03,261.63 271.78,262.48 273.45,262.99 275.07,263.39 276.65,263.95 278.19,264.49 279.70,265.24 281.21,266.05 282.71,266.53 284.18,266.77 285.61,266.97 287.00,267.26 288.37,267.69 289.75,268.20 291.16,268.60 292.60,268.86 294.11,268.97 295.75,269.23 297.54,269.78 299.41,270.22 301.29,270.42 303.10,270.58 304.76,270.72 306.20,270.68 307.35,270.55 308.18,270.52 308.74,270.38 309.10,270.09 309.30,269.92 309.42,269.84 309.49,269.76 309.59,269.76 309.78,269.60 310.01,269.21 310.24,268.93 310.45,268.60 310.64,268.00 310.81,267.23 310.97,266.61 311.10,266.22 311.20,266.22"/>
<polyline fill="none" stroke="#f23a3a" stroke-width="1.2" stroke-linejoin="round" points="26.30,177.60 26.82,177.92 27.51,178.18 28.33,178.53 29.24,178.88 30.21,179.45 31.21,180.10 32.20,180.42 33.14,180.73 34.09,181.01 35.10,181.20 36.15,181.34 37.21,181.52 38.23,181.73 39.20,181.74 40.07,181.78 40.83,181.99 41.44,182.33 41.93,182.82 42.33,183.24 42.67,183.34 42.99,183.43 43.31,183.89 43.67,184.32 44.11,184.45 44.60,184.68 45.11,184.96 45.63,185.14 46.18,185.33 46.74,185.57 47.32,185.83 47.91,186.20 48.52,186.63 49.12,186.88 49.70,187.11 50.29,187.74 50.89,188.62 51.54,189.16 52.25,189.69 53.04,190.44 53.94,190.99 54.93,191.44 56.01,191.79 57.15,191.92 58.37,192.26 59.64,192.69 60.97,192.99 62.35,193.38 63.76,193.86 65.23,194.55 66.76,195.36 68.34,196.11 69.97,196.73 71.64,197.22 73.36,197.76 75.10,198.55 76.87,199.53 78.66,200.38 80.46,201.28 82.29,202.43 84.16,203.47 86.08,204.37 88.06,205.23 90.12,206.12 92.25,207.14 94.54,208.29 96.99,209.48 99.54,210.67 102.14,211.93 104.72,213.28 107.22,214.36 109.60,215.17 111.77,216.06 113.77,217.07 115.66,218.24 117.45,219.21 119.14,219.92 120.75,220.71 122.29,221.34 123.75,221.99 125.16,222.83 126.44,223.34 127.55,223.72 128.55,224.19 129.50,224.58 130.44,224.99 131.45,225.41 132.56,225.84 133.85,226.28 135.28,226.63 136.79,226.97 138.37,227.44 140.03,228.07 141.77,228.75 143.57,229.39 145.44,230.00 147.38,230.51 149.51,231.10 151.89,231.57 154.41,231.73 156.96,232.04 159.44,232.63 161.75,233.27 163.77,233.86 165.42,234.26 166.48,234.52 166.97,234.64 167.11,234.61 167.12,234.68 167.19,234.83 167.56,234.97 168.44,235.25 170.03,235.90 172.39,236.72 175.34,237.48 178.75,238.17 182.46,239.07 186.36,240.27 190.31,241.20 194.17,242.12 197.81,243.29 201.29,244.40 204.77,245.38 208.24,246.33 211.73,247.47 215.21,248.77 218.71,249.85 222.21,250.83 225.73,252.02 229.26,253.24 232.81,254.25 236.37,255.12 239.94,256.00 243.51,256.90 247.08,257.77 250.65,258.70 254.22,259.63 257.89,260.55 261.70,261.63 265.57,262.61 269.42,263.27 273.14,263.87 276.66,264.67 279.88,265.42 282.71,266.13 285.11,266.98 287.14,267.56 288.88,267.92 290.40,268.27 291.80,268.50 293.13,268.83 294.49,269.36 295.96,269.82 297.53,270.00 299.14,270.15 300.75,270.64 302.31,271.14 303.80,271.38 305.16,271.58 306.36,271.54 307.35,271.18 308.12,270.95 308.68,270.92 309.07,270.69 309.35,270.24 309.54,269.88 309.70,269.39 309.86,268.73 310.06,268.27 310.29,267.83 310.48,267.05 310.65,266.19 310.80,265.43 310.92,264.59 311.03,264.00 311.12,263.73 311.20,263.08"/>
<polyline fill="none" stroke="#3553b5" stroke-width="1.2" stroke-linejoin="round" points="26.30,177.60 26.82,177.92 27.51,178.60 28.33,179.45 29.24,180.17 30.21,181.14 31.21,182.06 32.20,182.60 33.14,183.21 34.09,183.62 35.10,183.74 36.15,184.04 37.21,184.37 38.23,184.54 39.20,184.64 40.07,184.68 40.83,184.86 41.45,185.30 41.96,186.01 42.38,186.71 42.74,187.23 43.07,187.67 43.39,188.12 43.73,188.51 44.11,188.74 44.49,189.08 44.85,189.54 45.19,189.77 45.54,189.74 45.91,189.73 46.33,189.93 46.82,190.22 47.38,190.70 48.02,191.26 48.71,191.77 49.46,192.51 50.25,193.08 51.09,193.39 51.99,193.97 52.94,194.55 53.94,194.96 54.98,195.58 56.09,196.09 57.24,196.30 58.44,196.56 59.69,196.90 61.00,197.45 62.36,197.96 63.76,198.19 65.23,198.52 66.76,199.22 68.34,199.96 69.97,200.51 71.64,201.24 73.36,202.30 75.10,203.29 76.87,204.03 78.66,204.90 80.46,205.87 82.29,206.84 84.16,207.93 86.08,209.09 88.06,210.45 90.12,211.70 92.25,212.71 94.54,214.04 96.99,215.48 99.54,216.77 102.14,218.36 104.72,220.18 107.22,221.55 109.60,222.60 111.77,223.90 113.75,225.04 115.58,225.83 117.30,226.60 118.94,227.33 120.51,228.19 122.05,229.11 123.60,229.87 125.16,230.44 126.71,230.85 128.20,231.48 129.66,232.20 131.11,232.62 132.56,232.92 134.03,233.43 135.56,234.03 137.15,234.33 138.83,234.65 140.57,235.28 142.35,235.77 144.16,236.17 145.98,236.64 147.80,237.17 149.60,237.59 151.37,238.05 153.08,238.57 154.73,239.03 156.35,239.45 157.98,239.83 159.63,240.41 161.34,240.95 163.14,241.32 165.05,241.74 167.11,242.25 169.31,242.91 171.60,243.47 173.95,244.14 176.31,244.97 178.63,245.53 180.87,246.14 183.00,246.84 184.91,247.33 186.61,247.71 188.20,248.14 189.78,248.63 191.43,248.93 193.26,249.44 195.35,250.24 197.81,251.01 200.67,252.07 203.86,253.18 207.29,253.98 210.92,254.80 214.64,255.92 218.40,257.24 222.12,258.58 225.73,259.94 229.26,261.11 232.81,261.98 236.37,262.96 239.94,264.11 243.51,265.10 247.08,266.18 250.65,267.48 254.22,268.55 257.93,269.44 261.84,270.61 265.84,271.91 269.80,272.98 273.59,273.94 277.09,274.85 280.17,275.58 282.71,276.36 284.62,277.05 285.98,277.39 286.93,277.40 287.58,277.30 288.07,277.42 288.52,277.66 289.07,277.85 289.83,278.05 290.78,278.31 291.77,278.62 292.79,278.74 293.80,278.81 294.79,279.14 295.74,279.56 296.61,279.85 297.38,279.93 298.04,280.03 298.61,280.36 299.10,280.66 299.54,280.77 299.96,280.75 300.39,280.75 300.85,281.06 301.37,281.28 301.96,281.30 302.60,281.50 303.26,281.90 303.94,282.19 304.60,282.28 305.24,282.48 305.83,282.51 306.36,282.28 306.83,281.98 307.26,281.30 307.65,280.36 308.01,279.54 308.35,278.63 308.65,277.68 308.94,276.75 309.21,275.88 309.45,275.24 309.67,274.66 309.86,273.99 310.02,273.28 310.17,272.76 310.29,272.27 310.40,271.80 310.49,271.25"/>
<line x1="310.63" y1="271.88" x2="311.20" y2="177.60" stroke="#3553b5" stroke-width="1.3"/>
<line x1="26.30" y1="303.30" x2="26.30" y2="300.10" stroke="#5a5a5a" stroke-width="0.7"/>
<line x1="26.30" y1="177.60" x2="26.30" y2="180.80" stroke="#5a5a5a" stroke-width="0.7"/>
<line x1="54.79" y1="303.30" x2="54.79" y2="300.10" stroke="#5a5a5a" stroke-width="0.7"/>
<line x1="54.79" y1="177.60" x2="54.79" y2="180.80" stroke="#5a5a5a" stroke-width="0.7"/>
<line x1="83.28" y1="303.30" x2="83.28" y2="300.10" stroke="#5a5a5a" stroke-width="0.7"/>
<line x1="83.28" y1="177.60" x2="83.28" y2="180.80" stroke="#5a5a5a" stroke-width="0.7"/>
<line x1="111.77" y1="303.30" x2="111.77" y2="300.10" stroke="#5a5a5a" stroke-width="0.7"/>
<line x1="111.77" y1="177.60" x2="111.77" y2="180.80" stroke="#5a5a5a" stroke-width="0.7"/>
<line x1="140.26" y1="303.30" x2="140.26" y2="300.10" stroke="#5a5a5a" stroke-width="0.7"/>
<line x1="140.26" y1="177.60" x2="140.26" y2="180.80" stroke="#5a5a5a" stroke-width="0.7"/>
<line x1="168.75" y1="303.30" x2="168.75" y2="300.10" stroke="#5a5a5a" stroke-width="0.7"/>
<line x1="168.75" y1="177.60" x2="168.75" y2="180.80" stroke="#5a5a5a" stroke-width="0.7"/>
<line x1="197.24" y1="303.30" x2="197.24" y2="300.10" stroke="#5a5a5a" stroke-width="0.7"/>
<line x1="197.24" y1="177.60" x2="197.24" y2="180.80" stroke="#5a5a5a" stroke-width="0.7"/>
<line x1="225.73" y1="303.30" x2="225.73" y2="300.10" stroke="#5a5a5a" stroke-width="0.7"/>
<line x1="225.73" y1="177.60" x2="225.73" y2="180.80" stroke="#5a5a5a" stroke-width="0.7"/>
<line x1="254.22" y1="303.30" x2="254.22" y2="300.10" stroke="#5a5a5a" stroke-width="0.7"/>
<line x1="254.22" y1="177.60" x2="254.22" y2="180.80" stroke="#5a5a5a" stroke-width="0.7"/>
<line x1="282.71" y1="303.30" x2="282.71" y2="300.10" stroke="#5a5a5a" stroke-width="0.7"/>
<line x1="282.71" y1="177.60" x2="282.71" y2="180.80" stroke="#5a5a5a" stroke-width="0.7"/>
<line x1="311.20" y1="303.30" x2="311.20" y2="300.10" stroke="#5a5a5a" stroke-width="0.7"/>
<line x1="311.20" y1="177.60" x2="311.20" y2="180.80" stroke="#5a5a5a" stroke-width="0.7"/>
<line x1="26.30" y1="303.30" x2="29.50" y2="303.30" stroke="#5a5a5a" stroke-width="0.7"/>
<line x1="311.20" y1="303.30" x2="308.00" y2="303.30" stroke="#5a5a5a" stroke-width="0.7"/>
<line x1="26.30" y1="271.88" x2="29.50" y2="271.88" stroke="#5a5a5a" stroke-width="0.7"/>
<line x1="311.20" y1="271.88" x2="308.00" y2="271.88" stroke="#5a5a5a" stroke-width="0.7"/>
<line x1="26.30" y1="240.45" x2="29.50" y2="240.45" stroke="#5a5a5a" stroke-width="0.7"/>
<line x1="311.20" y1="240.45" x2="308.00" y2="240.45" stroke="#5a5a5a" stroke-width="0.7"/>
<line x1="26.30" y1="209.03" x2="29.50" y2="209.03" stroke="#5a5a5a" stroke-width="0.7"/>
<line x1="311.20" y1="209.03" x2="308.00" y2="209.03" stroke="#5a5a5a" stroke-width="0.7"/>
<line x1="26.30" y1="177.60" x2="29.50" y2="177.60" stroke="#5a5a5a" stroke-width="0.7"/>
<line x1="311.20" y1="177.60" x2="308.00" y2="177.60" stroke="#5a5a5a" stroke-width="0.7"/>
<line x1="26.30" y1="177.60" x2="311.20" y2="177.60" stroke="#9c9c9c" stroke-width="1.3" stroke-linecap="square"/>
<line x1="26.30" y1="303.30" x2="311.20" y2="303.30" stroke="#5a5a5a" stroke-width="0.9" stroke-linecap="square"/>
<line x1="26.30" y1="177.60" x2="26.30" y2="303.30" stroke="#5a5a5a" stroke-width="0.9" stroke-linecap="square"/>
<line x1="311.20" y1="177.60" x2="311.20" y2="303.30" stroke="#5a5a5a" stroke-width="0.9" stroke-linecap="square"/>
<text transform="translate(26.30,313.90) scale(0.880,1)" font-size="7.4" text-anchor="middle" fill="#333333">0</text>
<text transform="translate(54.79,313.90) scale(0.880,1)" font-size="7.4" text-anchor="middle" fill="#333333">20</text>
<text transform="translate(83.28,313.90) scale(0.880,1)" font-size="7.4" text-anchor="middle" fill="#333333">40</text>
<text transform="translate(111.77,313.90) scale(0.880,1)" font-size="7.4" text-anchor="middle" fill="#333333">60</text>
<text transform="translate(140.26,313.90) scale(0.880,1)" font-size="7.4" text-anchor="middle" fill="#333333">80</text>
<text transform="translate(168.75,313.90) scale(0.880,1)" font-size="7.4" text-anchor="middle" fill="#333333">100</text>
<text transform="translate(197.24,313.90) scale(0.880,1)" font-size="7.4" text-anchor="middle" fill="#333333">120</text>
<text transform="translate(225.73,313.90) scale(0.880,1)" font-size="7.4" text-anchor="middle" fill="#333333">140</text>
<text transform="translate(254.22,313.90) scale(0.880,1)" font-size="7.4" text-anchor="middle" fill="#333333">160</text>
<text transform="translate(282.71,313.90) scale(0.880,1)" font-size="7.4" text-anchor="middle" fill="#333333">180</text>
<text transform="translate(311.20,313.90) scale(0.880,1)" font-size="7.4" text-anchor="middle" fill="#333333">200</text>
<text transform="translate(23.80,306.56) scale(0.880,1)" font-size="7.4" text-anchor="end" fill="#333333">-200</text>
<text transform="translate(23.80,275.14) scale(0.880,1)" font-size="7.4" text-anchor="end" fill="#333333">-150</text>
<text transform="translate(23.80,243.71) scale(0.880,1)" font-size="7.4" text-anchor="end" fill="#333333">-100</text>
<text transform="translate(23.80,212.29) scale(0.880,1)" font-size="7.4" text-anchor="end" fill="#333333">-50</text>
<text transform="translate(23.80,180.86) scale(0.880,1)" font-size="7.4" text-anchor="end" fill="#333333">0</text>
<text transform="translate(6.50,240.50) scale(0.980,1) rotate(-90)" font-size="10.0" text-anchor="middle" fill="#333333">Phase(°)</text>
<text x="132.55" y="325.70" font-size="8.9" fill="#333333">Frequency</text>
<text x="174.20" y="325.70" font-size="8.9" fill="#333333" font-family='"Liberation Sans", "Noto Sans CJK SC", sans-serif'>（</text>
<text x="184.53" y="325.70" font-size="8.9" fill="#333333">Hz</text>
<text x="196.64" y="325.70" font-size="8.9" fill="#333333" font-family='"Liberation Sans", "Noto Sans CJK SC", sans-serif'>）</text>
<rect x="268.20" y="183.30" width="38.40" height="36.20" fill="#ffffff" stroke="#555555" stroke-width="0.8"/>
<line x1="270.00" y1="190.50" x2="288.90" y2="190.50" stroke="#2a2a2a" stroke-width="1.1"/>
<text transform="translate(290.80,194.00) scale(0.840,1)" font-size="9.2" fill="#333333" font-family='"Liberation Sans", Arial, sans-serif'>α=2</text>
<line x1="270.00" y1="201.70" x2="288.90" y2="201.70" stroke="#f23a3a" stroke-width="1.1"/>
<text transform="translate(290.80,205.20) scale(0.840,1)" font-size="9.2" fill="#333333" font-family='"Liberation Sans", Arial, sans-serif'>α=3</text>
<line x1="270.00" y1="213.30" x2="288.90" y2="213.30" stroke="#4a64c0" stroke-width="1.4"/>
<text transform="translate(290.80,216.80) scale(0.840,1)" font-size="9.2" fill="#333333" font-family='"Liberation Sans", Arial, sans-serif'>α=4</text>
<rect x="105.90" y="235.20" width="30.60" height="26.30" rx="1.2" fill="none" stroke="#d0d0d0" stroke-width="1.2"/>
<rect x="105.40" y="234.60" width="30.60" height="26.30" rx="1" fill="#f1f3f7" stroke="#b4b4b4" stroke-width="0.9"/>
<text x="108.80" y="245.86" font-size="6.5" fill="#8f8f8f">X <tspan fill="#2f62c0" font-weight="bold">77.82</tspan></text>
<text x="108.80" y="256.56" font-size="6.5" fill="#8f8f8f">Y <tspan fill="#2f62c0" font-weight="bold">-90.25</tspan></text>
<rect x="134.80" y="208.30" width="30.20" height="25.80" rx="1.2" fill="none" stroke="#d0d0d0" stroke-width="1.2"/>
<rect x="134.30" y="207.70" width="30.20" height="25.80" rx="1" fill="#f1f3f7" stroke="#b4b4b4" stroke-width="0.9"/>
<text x="137.70" y="218.74" font-size="6.5" fill="#8f8f8f">X <tspan fill="#2f62c0" font-weight="bold">97.66</tspan></text>
<text x="137.70" y="229.24" font-size="6.5" fill="#8f8f8f">Y <tspan fill="#2f62c0" font-weight="bold">-89.95</tspan></text>
<rect x="179.10" y="208.30" width="30.20" height="25.80" rx="1.2" fill="none" stroke="#d0d0d0" stroke-width="1.2"/>
<rect x="178.60" y="207.70" width="30.20" height="25.80" rx="1" fill="#ffffff" stroke="#c4c4c4" stroke-width="0.9"/>
<text x="182.00" y="218.74" font-size="6.5" fill="#3a3a3a">X <tspan fill="#2f62c0" font-weight="bold">105.9</tspan></text>
<text x="182.00" y="229.24" font-size="6.5" fill="#3a3a3a">Y <tspan fill="#2f62c0" font-weight="bold">-90.19</tspan></text>
<line x1="423.09" y1="177.70" x2="423.09" y2="303.40" stroke="#e9e9e9" stroke-width="0.8"/>
<line x1="451.58" y1="177.70" x2="451.58" y2="303.40" stroke="#e9e9e9" stroke-width="0.8"/>
<line x1="480.07" y1="177.70" x2="480.07" y2="303.40" stroke="#e9e9e9" stroke-width="0.8"/>
<line x1="508.56" y1="177.70" x2="508.56" y2="303.40" stroke="#e9e9e9" stroke-width="0.8"/>
<line x1="537.05" y1="177.70" x2="537.05" y2="303.40" stroke="#e9e9e9" stroke-width="0.8"/>
<line x1="565.54" y1="177.70" x2="565.54" y2="303.40" stroke="#e9e9e9" stroke-width="0.8"/>
<line x1="594.03" y1="177.70" x2="594.03" y2="303.40" stroke="#e9e9e9" stroke-width="0.8"/>
<line x1="622.52" y1="177.70" x2="622.52" y2="303.40" stroke="#e9e9e9" stroke-width="0.8"/>
<line x1="651.01" y1="177.70" x2="651.01" y2="303.40" stroke="#e9e9e9" stroke-width="0.8"/>
<line x1="394.60" y1="271.97" x2="679.50" y2="271.97" stroke="#e9e9e9" stroke-width="0.8"/>
<line x1="394.60" y1="240.55" x2="679.50" y2="240.55" stroke="#e9e9e9" stroke-width="0.8"/>
<line x1="394.60" y1="209.12" x2="679.50" y2="209.12" stroke="#e9e9e9" stroke-width="0.8"/>
<polyline fill="none" stroke="#2a2a2a" stroke-width="1.1" stroke-linejoin="round" points="394.60,177.70 395.07,178.00 395.69,178.38 396.43,178.89 397.25,179.63 398.14,180.29 399.05,180.63 399.97,180.90 400.87,181.24 401.78,181.40 402.74,181.55 403.74,181.84 404.76,181.76 405.77,181.49 406.75,181.61 407.69,181.75 408.56,181.83 409.34,182.26 410.05,182.92 410.71,183.61 411.35,184.37 411.98,185.02 412.64,185.65 413.34,186.54 414.12,187.38 414.96,187.89 415.86,188.13 416.79,188.29 417.76,188.66 418.74,189.35 419.72,190.04 420.70,190.37 421.67,190.76 422.62,191.23 423.58,191.44 424.54,191.65 425.50,191.82 426.47,191.98 427.43,192.44 428.40,192.78 429.36,192.83 430.32,193.06 431.28,193.40 432.24,193.70 433.20,194.22 434.17,194.78 435.13,195.11 436.09,195.47 437.05,195.83 437.99,196.09 438.90,196.49 439.79,196.99 440.69,197.38 441.62,197.84 442.59,198.37 443.62,198.75 444.74,199.34 445.96,200.28 447.25,201.02 448.62,201.50 450.02,202.05 451.45,202.69 452.89,203.46 454.32,204.23 455.71,204.77 457.07,205.36 458.40,206.05 459.73,206.70 461.06,207.49 462.41,208.27 463.79,208.86 465.21,209.36 466.68,209.98 468.23,210.69 469.86,211.54 471.53,212.58 473.23,213.50 474.93,214.28 476.61,215.17 478.23,216.19 479.79,217.11 481.26,217.93 482.68,218.80 484.07,219.43 485.42,219.95 486.76,220.74 488.08,221.53 489.41,222.09 490.75,222.53 492.08,222.98 493.36,223.58 494.62,224.16 495.89,224.63 497.18,225.15 498.52,225.71 499.93,226.22 501.44,226.65 503.02,227.13 504.66,227.90 506.35,228.70 508.10,229.11 509.91,229.42 511.77,230.04 513.70,230.72 515.68,231.15 517.76,231.52 519.94,232.00 522.19,232.64 524.49,233.18 526.82,233.40 529.15,233.64 531.46,234.05 533.72,234.55 535.96,235.18 538.22,235.96 540.49,236.74 542.74,237.33 544.97,237.93 547.15,238.74 549.26,239.42 551.30,239.80 553.14,240.32 554.76,241.03 556.26,241.60 557.74,242.05 559.30,242.55 561.06,243.11 563.10,243.71 565.54,244.56 568.42,245.47 571.66,246.38 575.18,247.53 578.89,248.77 582.72,249.80 586.57,250.80 590.37,252.04 594.03,253.19 597.59,254.10 601.15,254.77 604.71,255.26 608.27,255.83 611.84,256.46 615.40,257.30 618.96,258.12 622.52,258.70 626.19,259.44 630.00,260.37 633.87,261.39 637.72,262.45 641.44,263.63 644.96,264.95 648.18,265.87 651.01,266.44 653.44,267.05 655.55,267.54 657.39,267.83 659.01,268.13 660.45,268.48 661.77,268.67 663.03,268.78 664.26,269.06 665.41,269.43 666.42,269.58 667.30,269.64 668.09,269.92 668.80,270.26 669.48,270.39 670.14,270.30 670.81,270.23 671.47,270.39 672.09,270.57 672.67,270.80 673.22,271.20 673.75,271.65 674.25,272.00 674.74,272.04 675.23,271.95 675.71,271.91 676.18,271.71 676.64,271.34 677.08,270.93 677.49,270.56 677.87,270.24 678.21,269.93 678.50,269.49 678.74,268.99 678.94,268.49 679.09,268.00 679.21,267.55 679.30,267.09 679.37,266.56 679.44,266.08 679.50,265.69"/>
<polyline fill="none" stroke="#f23a3a" stroke-width="1.1" stroke-linejoin="round" points="394.60,177.70 395.07,178.09 395.69,178.56 396.43,178.91 397.25,179.35 398.14,179.81 399.05,180.20 399.97,180.69 400.87,181.16 401.78,181.27 402.74,181.10 403.74,180.98 404.76,181.06 405.77,181.28 406.75,181.27 407.69,181.28 408.56,181.82 409.34,182.36 410.05,182.74 410.71,183.17 411.35,183.60 411.98,184.25 412.64,185.04 413.34,185.64 414.12,186.20 414.96,186.76 415.86,187.32 416.79,187.99 417.76,188.69 418.74,189.29 419.72,189.73 420.70,190.12 421.67,190.53 422.62,190.88 423.58,191.09 424.54,191.39 425.50,191.92 426.47,192.28 427.43,192.42 428.40,192.50 429.36,192.56 430.32,192.76 431.28,193.03 432.24,193.43 433.20,193.94 434.17,194.38 435.13,194.76 436.09,195.16 437.05,195.68 437.99,195.98 438.90,196.04 439.79,196.54 440.69,197.25 441.62,197.80 442.59,198.30 443.62,198.60 444.74,199.01 445.96,199.82 447.25,200.55 448.62,201.00 450.02,201.57 451.45,202.50 452.89,203.51 454.32,204.12 455.71,204.49 457.07,205.01 458.40,205.58 459.73,206.29 461.06,207.07 462.41,207.65 463.79,208.29 465.21,208.95 466.68,209.65 468.23,210.50 469.86,211.33 471.53,212.21 473.23,213.09 474.93,214.00 476.61,214.90 478.23,215.91 479.79,217.02 481.26,217.76 482.68,218.37 484.07,219.08 485.42,219.64 486.76,220.34 488.08,221.19 489.41,221.70 490.75,222.22 492.08,222.90 493.36,223.30 494.62,223.78 495.89,224.41 497.18,224.81 498.52,225.14 499.93,225.54 501.44,226.15 503.01,226.87 504.61,227.51 506.26,228.16 507.97,228.78 509.75,229.50 511.62,230.23 513.59,230.72 515.68,231.23 517.96,231.69 520.43,231.83 523.03,232.19 525.71,232.84 528.40,233.18 531.03,233.26 533.55,233.64 535.88,234.40 538.05,235.01 540.10,235.51 542.06,236.33 543.96,237.09 545.81,237.61 547.64,238.09 549.46,238.55 551.30,239.29 553.03,240.09 554.60,240.58 556.10,240.99 557.60,241.49 559.21,242.08 561.00,242.58 563.09,243.00 565.54,243.74 568.42,244.69 571.66,245.57 575.18,246.67 578.89,248.07 582.72,249.39 586.57,250.41 590.37,251.42 594.03,252.44 597.59,253.07 601.15,253.66 604.71,254.50 608.27,255.23 611.84,255.81 615.40,256.52 618.96,257.42 622.52,258.26 626.19,259.06 630.00,260.17 633.87,261.51 637.72,262.64 641.44,263.55 644.96,264.43 648.18,265.15 651.01,265.63 653.44,266.07 655.55,266.73 657.39,267.48 659.01,267.98 660.45,268.13 661.77,268.15 663.03,268.42 664.26,268.78 665.41,268.99 666.42,269.19 667.30,269.34 668.09,269.31 668.80,269.46 669.48,269.79 670.14,269.96 670.81,270.02 671.47,270.11 672.09,270.33 672.67,270.44 673.22,270.44 673.75,270.63 674.25,270.85 674.74,270.76 675.23,270.52 675.71,270.36 676.18,270.08 676.64,269.56 677.08,269.00 677.49,268.44 677.87,267.96 678.21,267.40 678.50,266.81 678.74,266.54 678.94,266.28 679.09,265.72 679.21,265.01 679.30,264.38 679.37,263.96 679.44,263.55 679.50,263.18"/>
<polyline fill="none" stroke="#3553b5" stroke-width="1.2" stroke-linejoin="round" points="394.60,177.70 395.07,178.14 395.69,178.54 396.43,178.85 397.25,179.37 398.14,180.11 399.05,180.85 399.97,181.54 400.87,181.96 401.78,182.10 402.74,182.16 403.74,182.07 404.76,181.88 405.77,181.80 406.75,181.93 407.69,182.14 408.56,182.38 409.34,182.82 410.05,183.38 410.71,184.10 411.35,184.84 411.98,185.67 412.64,186.45 413.34,186.90 414.12,187.54 414.96,188.39 415.86,188.83 416.79,189.24 417.76,190.00 418.74,190.44 419.72,190.54 420.70,190.82 421.67,191.18 422.62,191.60 423.58,191.98 424.54,192.23 425.50,192.47 426.47,192.57 427.43,192.87 428.40,193.35 429.36,193.61 430.32,193.88 431.28,194.25 432.24,194.54 433.20,194.72 434.17,195.04 435.13,195.69 436.09,196.34 437.05,196.72 437.99,196.93 438.90,197.14 439.79,197.58 440.69,198.18 441.62,198.59 442.59,198.86 443.62,199.34 444.74,200.02 445.96,200.79 447.25,201.54 448.62,202.04 450.02,202.65 451.45,203.53 452.89,204.27 454.32,204.86 455.71,205.47 457.07,206.13 458.40,206.85 459.73,207.46 461.06,207.95 462.41,208.52 463.79,209.21 465.21,209.88 466.68,210.48 468.23,211.25 469.86,212.27 471.53,213.19 473.23,214.01 474.93,214.94 476.61,215.85 478.23,216.75 479.79,217.78 481.26,218.70 482.68,219.43 484.07,220.07 485.42,220.68 486.76,221.38 488.08,221.91 489.41,222.46 490.75,223.34 492.11,223.95 493.46,224.23 494.81,224.84 496.16,225.59 497.50,226.04 498.82,226.38 500.14,226.78 501.44,227.37 502.72,228.21 503.98,228.96 505.22,229.38 506.46,229.48 507.69,229.64 508.92,230.18 510.16,230.87 511.41,231.37 512.64,231.60 513.85,231.81 515.05,232.20 516.25,232.63 517.48,232.98 518.76,233.40 520.11,234.06 521.54,234.53 523.12,234.81 524.88,235.52 526.74,236.41 528.63,237.19 530.47,238.01 532.21,238.70 533.76,239.31 535.06,239.74 535.93,239.86 536.39,239.93 536.59,240.08 536.72,240.28 536.94,240.29 537.43,240.34 538.36,240.74 539.90,241.17 542.09,241.78 544.78,242.89 547.87,244.16 551.24,245.29 554.80,246.52 558.44,247.93 562.06,249.19 565.54,250.18 568.96,251.13 572.46,252.32 576.02,253.60 579.61,254.69 583.22,255.64 586.84,256.58 590.45,257.70 594.03,258.87 597.59,259.75 601.15,260.59 604.71,261.76 608.27,262.91 611.84,263.84 615.40,264.78 618.96,265.65 622.52,266.49 626.22,267.42 630.10,268.27 634.07,269.18 637.99,270.28 641.77,271.49 645.27,272.67 648.39,273.54 651.01,274.20 653.06,274.75 654.60,275.21 655.77,275.83 656.66,276.37 657.40,276.61 658.10,276.82 658.88,277.10 659.84,277.38 660.95,277.51 662.07,277.32 663.20,277.13 664.32,277.16 665.43,277.24 666.50,277.21 667.54,277.19 668.53,277.20 669.49,277.13 670.43,277.28 671.34,277.81 672.22,278.27 673.05,278.65 673.84,279.04 674.57,279.15 675.23,279.01 675.82,278.92 676.34,278.59 676.81,277.84 677.22,277.13 677.59,276.45 677.92,275.71 678.23,275.02 678.50,274.44 678.74,273.90 678.94,273.11 679.09,272.14 679.21,271.16 679.30,270.39 679.37,269.84 679.44,269.22 679.50,268.64"/>
<line x1="394.60" y1="303.40" x2="394.60" y2="300.20" stroke="#5a5a5a" stroke-width="0.7"/>
<line x1="394.60" y1="177.70" x2="394.60" y2="180.90" stroke="#5a5a5a" stroke-width="0.7"/>
<line x1="423.09" y1="303.40" x2="423.09" y2="300.20" stroke="#5a5a5a" stroke-width="0.7"/>
<line x1="423.09" y1="177.70" x2="423.09" y2="180.90" stroke="#5a5a5a" stroke-width="0.7"/>
<line x1="451.58" y1="303.40" x2="451.58" y2="300.20" stroke="#5a5a5a" stroke-width="0.7"/>
<line x1="451.58" y1="177.70" x2="451.58" y2="180.90" stroke="#5a5a5a" stroke-width="0.7"/>
<line x1="480.07" y1="303.40" x2="480.07" y2="300.20" stroke="#5a5a5a" stroke-width="0.7"/>
<line x1="480.07" y1="177.70" x2="480.07" y2="180.90" stroke="#5a5a5a" stroke-width="0.7"/>
<line x1="508.56" y1="303.40" x2="508.56" y2="300.20" stroke="#5a5a5a" stroke-width="0.7"/>
<line x1="508.56" y1="177.70" x2="508.56" y2="180.90" stroke="#5a5a5a" stroke-width="0.7"/>
<line x1="537.05" y1="303.40" x2="537.05" y2="300.20" stroke="#5a5a5a" stroke-width="0.7"/>
<line x1="537.05" y1="177.70" x2="537.05" y2="180.90" stroke="#5a5a5a" stroke-width="0.7"/>
<line x1="565.54" y1="303.40" x2="565.54" y2="300.20" stroke="#5a5a5a" stroke-width="0.7"/>
<line x1="565.54" y1="177.70" x2="565.54" y2="180.90" stroke="#5a5a5a" stroke-width="0.7"/>
<line x1="594.03" y1="303.40" x2="594.03" y2="300.20" stroke="#5a5a5a" stroke-width="0.7"/>
<line x1="594.03" y1="177.70" x2="594.03" y2="180.90" stroke="#5a5a5a" stroke-width="0.7"/>
<line x1="622.52" y1="303.40" x2="622.52" y2="300.20" stroke="#5a5a5a" stroke-width="0.7"/>
<line x1="622.52" y1="177.70" x2="622.52" y2="180.90" stroke="#5a5a5a" stroke-width="0.7"/>
<line x1="651.01" y1="303.40" x2="651.01" y2="300.20" stroke="#5a5a5a" stroke-width="0.7"/>
<line x1="651.01" y1="177.70" x2="651.01" y2="180.90" stroke="#5a5a5a" stroke-width="0.7"/>
<line x1="679.50" y1="303.40" x2="679.50" y2="300.20" stroke="#5a5a5a" stroke-width="0.7"/>
<line x1="679.50" y1="177.70" x2="679.50" y2="180.90" stroke="#5a5a5a" stroke-width="0.7"/>
<line x1="394.60" y1="303.40" x2="397.80" y2="303.40" stroke="#5a5a5a" stroke-width="0.7"/>
<line x1="679.50" y1="303.40" x2="676.30" y2="303.40" stroke="#5a5a5a" stroke-width="0.7"/>
<line x1="394.60" y1="271.97" x2="397.80" y2="271.97" stroke="#5a5a5a" stroke-width="0.7"/>
<line x1="679.50" y1="271.97" x2="676.30" y2="271.97" stroke="#5a5a5a" stroke-width="0.7"/>
<line x1="394.60" y1="240.55" x2="397.80" y2="240.55" stroke="#5a5a5a" stroke-width="0.7"/>
<line x1="679.50" y1="240.55" x2="676.30" y2="240.55" stroke="#5a5a5a" stroke-width="0.7"/>
<line x1="394.60" y1="209.12" x2="397.80" y2="209.12" stroke="#5a5a5a" stroke-width="0.7"/>
<line x1="679.50" y1="209.12" x2="676.30" y2="209.12" stroke="#5a5a5a" stroke-width="0.7"/>
<line x1="394.60" y1="177.70" x2="397.80" y2="177.70" stroke="#5a5a5a" stroke-width="0.7"/>
<line x1="679.50" y1="177.70" x2="676.30" y2="177.70" stroke="#5a5a5a" stroke-width="0.7"/>
<line x1="394.60" y1="177.70" x2="679.50" y2="177.70" stroke="#9c9c9c" stroke-width="1.3" stroke-linecap="square"/>
<line x1="394.60" y1="303.40" x2="679.50" y2="303.40" stroke="#5a5a5a" stroke-width="0.9" stroke-linecap="square"/>
<line x1="394.60" y1="177.70" x2="394.60" y2="303.40" stroke="#5a5a5a" stroke-width="0.9" stroke-linecap="square"/>
<line x1="679.50" y1="177.70" x2="679.50" y2="303.40" stroke="#5a5a5a" stroke-width="0.9" stroke-linecap="square"/>
<text transform="translate(394.60,313.80) scale(0.950,1)" font-size="7.4" text-anchor="middle" fill="#333333">0</text>
<text transform="translate(423.09,313.80) scale(0.950,1)" font-size="7.4" text-anchor="middle" fill="#333333">20</text>
<text transform="translate(451.58,313.80) scale(0.950,1)" font-size="7.4" text-anchor="middle" fill="#333333">40</text>
<text transform="translate(480.07,313.80) scale(0.950,1)" font-size="7.4" text-anchor="middle" fill="#333333">60</text>
<text transform="translate(508.56,313.80) scale(0.950,1)" font-size="7.4" text-anchor="middle" fill="#333333">80</text>
<text transform="translate(537.05,313.80) scale(0.950,1)" font-size="7.4" text-anchor="middle" fill="#333333">100</text>
<text transform="translate(565.54,313.80) scale(0.950,1)" font-size="7.4" text-anchor="middle" fill="#333333">120</text>
<text transform="translate(594.03,313.80) scale(0.950,1)" font-size="7.4" text-anchor="middle" fill="#333333">140</text>
<text transform="translate(622.52,313.80) scale(0.950,1)" font-size="7.4" text-anchor="middle" fill="#333333">160</text>
<text transform="translate(651.01,313.80) scale(0.950,1)" font-size="7.4" text-anchor="middle" fill="#333333">180</text>
<text transform="translate(679.50,313.80) scale(0.950,1)" font-size="7.4" text-anchor="middle" fill="#333333">200</text>
<text transform="translate(391.80,306.56) scale(0.950,1)" font-size="7.4" text-anchor="end" fill="#333333">-200</text>
<text transform="translate(391.80,275.14) scale(0.950,1)" font-size="7.4" text-anchor="end" fill="#333333">-150</text>
<text transform="translate(391.80,243.71) scale(0.950,1)" font-size="7.4" text-anchor="end" fill="#333333">-100</text>
<text transform="translate(391.80,212.29) scale(0.950,1)" font-size="7.4" text-anchor="end" fill="#333333">-50</text>
<text transform="translate(391.80,180.86) scale(0.950,1)" font-size="7.4" text-anchor="end" fill="#333333">0</text>
<text transform="translate(371.80,240.50) scale(1.000,1) rotate(-90)" font-size="10.0" text-anchor="middle" fill="#333333">Phase(°)</text>
<text x="496.56" y="325.60" font-size="10.0" fill="#333333">Frequency</text>
<text x="543.35" y="325.60" font-size="10.0" fill="#333333" font-family='"Liberation Sans", "Noto Sans CJK SC", sans-serif'>（</text>
<text x="554.96" y="325.60" font-size="10.0" fill="#333333">Hz</text>
<text x="568.57" y="325.60" font-size="10.0" fill="#333333" font-family='"Liberation Sans", "Noto Sans CJK SC", sans-serif'>）</text>
<rect x="632.70" y="183.40" width="41.00" height="34.10" fill="#ffffff" stroke="#555555" stroke-width="0.8"/>
<line x1="635.20" y1="190.00" x2="656.80" y2="190.00" stroke="#8a8a8a" stroke-width="1.8"/>
<text transform="translate(658.80,193.12) scale(1.000,1)" font-size="8.2" fill="#4a4a4a" font-family='"Liberation Serif", "Times New Roman", serif'>h=5</text>
<line x1="635.20" y1="200.60" x2="656.80" y2="200.60" stroke="#f23a3a" stroke-width="1.0"/>
<text transform="translate(658.80,203.72) scale(1.000,1)" font-size="8.2" fill="#4a4a4a" font-family='"Liberation Serif", "Times New Roman", serif'>h=7</text>
<line x1="635.20" y1="211.50" x2="656.80" y2="211.50" stroke="#3553b5" stroke-width="1.0"/>
<text transform="translate(658.80,214.62) scale(1.000,1)" font-size="8.2" fill="#4a4a4a" font-family='"Liberation Serif", "Times New Roman", serif'>h=9</text>
<rect x="486.20" y="235.20" width="35.20" height="25.60" rx="1.2" fill="none" stroke="#d0d0d0" stroke-width="1.2"/>
<rect x="485.70" y="234.60" width="35.20" height="25.60" rx="1" fill="#f1f3f7" stroke="#b4b4b4" stroke-width="0.9"/>
<text x="489.10" y="245.56" font-size="7.0" fill="#8f8f8f">X <tspan fill="#2f62c0" font-weight="bold">89.11</tspan></text>
<text x="489.10" y="255.98" font-size="7.0" fill="#8f8f8f">Y <tspan fill="#2f62c0" font-weight="bold">-90.11</tspan></text>
<rect x="498.20" y="208.30" width="35.70" height="25.80" rx="1.2" fill="none" stroke="#d0d0d0" stroke-width="1.2"/>
<rect x="497.70" y="207.70" width="35.70" height="25.80" rx="1" fill="#f1f3f7" stroke="#b4b4b4" stroke-width="0.9"/>
<text x="501.10" y="218.74" font-size="7.0" fill="#8f8f8f">X <tspan fill="#2f62c0" font-weight="bold">97.66</tspan></text>
<text x="501.10" y="229.24" font-size="7.0" fill="#8f8f8f">Y <tspan fill="#2f62c0" font-weight="bold">-89.97</tspan></text>
<rect x="537.70" y="208.30" width="33.90" height="25.80" rx="1.2" fill="none" stroke="#d0d0d0" stroke-width="1.2"/>
<rect x="537.20" y="207.70" width="33.90" height="25.80" rx="1" fill="#ffffff" stroke="#c4c4c4" stroke-width="0.9"/>
<text x="540.60" y="218.74" font-size="7.0" fill="#3a3a3a">X <tspan fill="#4a78cc" font-weight="bold">99.18</tspan></text>
<text x="540.60" y="229.24" font-size="7.0" fill="#3a3a3a">Y <tspan fill="#4a78cc" font-weight="bold">-89.95</tspan></text>
<line x1="244.92" y1="397.40" x2="244.92" y2="523.10" stroke="#e9e9e9" stroke-width="0.8"/>
<line x1="273.44" y1="397.40" x2="273.44" y2="523.10" stroke="#e9e9e9" stroke-width="0.8"/>
<line x1="301.96" y1="397.40" x2="301.96" y2="523.10" stroke="#e9e9e9" stroke-width="0.8"/>
<line x1="330.48" y1="397.40" x2="330.48" y2="523.10" stroke="#e9e9e9" stroke-width="0.8"/>
<line x1="359.00" y1="397.40" x2="359.00" y2="523.10" stroke="#e9e9e9" stroke-width="0.8"/>
<line x1="387.52" y1="397.40" x2="387.52" y2="523.10" stroke="#e9e9e9" stroke-width="0.8"/>
<line x1="416.04" y1="397.40" x2="416.04" y2="523.10" stroke="#e9e9e9" stroke-width="0.8"/>
<line x1="444.56" y1="397.40" x2="444.56" y2="523.10" stroke="#e9e9e9" stroke-width="0.8"/>
<line x1="473.08" y1="397.40" x2="473.08" y2="523.10" stroke="#e9e9e9" stroke-width="0.8"/>
<line x1="216.40" y1="498.16" x2="501.60" y2="498.16" stroke="#e9e9e9" stroke-width="0.8"/>
<line x1="216.40" y1="473.22" x2="501.60" y2="473.22" stroke="#e9e9e9" stroke-width="0.8"/>
<line x1="216.40" y1="448.28" x2="501.60" y2="448.28" stroke="#e9e9e9" stroke-width="0.8"/>
<line x1="216.40" y1="423.34" x2="501.60" y2="423.34" stroke="#e9e9e9" stroke-width="0.8"/>
<line x1="216.40" y1="398.40" x2="501.60" y2="398.40" stroke="#e9e9e9" stroke-width="0.8"/>
<polyline fill="none" stroke="#2a2a2a" stroke-width="1.0" stroke-linejoin="round" points="216.40,423.34 216.84,423.39 217.43,423.50 218.13,423.45 218.90,423.25 219.72,423.11 220.52,423.06 221.28,423.09 221.96,423.06 222.56,422.82 223.12,422.54 223.66,422.22 224.18,421.90 224.70,421.72 225.23,421.55 225.79,421.18 226.38,420.77 227.01,420.61 227.67,420.67 228.34,420.86 229.03,420.95 229.72,420.94 230.42,420.92 231.12,420.89 231.80,420.85 232.50,420.62 233.24,420.35 233.98,420.23 234.72,420.07 235.44,419.89 236.11,419.70 236.71,419.49 237.22,419.40 237.61,419.39 237.88,419.38 238.06,419.50 238.21,419.83 238.36,420.11 238.55,420.25 238.82,420.28 239.22,420.32 239.72,420.35 240.28,420.36 240.89,420.50 241.56,420.56 242.28,420.53 243.06,420.64 243.89,420.80 244.78,420.88 245.74,421.00 246.79,421.12 247.91,421.08 249.07,421.07 250.26,421.16 251.46,421.20 252.63,421.20 253.76,421.29 254.88,421.35 256.01,421.43 257.14,421.69 258.27,421.85 259.38,421.82 260.45,421.96 261.48,422.05 262.46,421.94 263.38,422.12 264.24,422.59 265.06,422.92 265.85,423.03 266.61,423.15 267.37,423.53 268.12,424.06 268.88,424.47 269.59,424.69 270.24,424.95 270.85,425.39 271.46,425.81 272.12,426.18 272.85,426.63 273.71,427.22 274.72,427.74 275.95,428.12 277.38,428.56 278.96,429.15 280.60,429.76 282.24,430.28 283.83,430.83 285.29,431.42 286.56,431.89 287.62,432.33 288.53,432.91 289.33,433.52 290.06,433.97 290.77,434.42 291.48,435.04 292.25,435.75 293.12,436.36 294.08,436.79 295.09,437.20 296.15,437.76 297.22,438.28 298.30,438.69 299.36,439.34 300.40,440.09 301.39,440.59 302.32,441.12 303.21,441.87 304.07,442.57 304.92,443.21 305.77,443.95 306.64,444.78 307.55,445.48 308.52,446.01 309.54,446.68 310.62,447.56 311.72,448.34 312.85,448.93 313.99,449.53 315.13,450.19 316.26,450.72 317.36,451.32 318.45,452.20 319.54,453.12 320.63,453.76 321.72,454.35 322.79,455.16 323.86,455.87 324.90,456.40 325.92,456.97 326.89,457.48 327.82,457.92 328.71,458.39 329.60,458.85 330.50,459.28 331.43,459.69 332.41,460.13 333.46,460.63 334.58,461.21 335.75,461.59 336.97,461.90 338.22,462.36 339.50,462.73 340.80,463.12 342.12,463.51 343.46,463.78 344.86,464.07 346.36,464.36 347.91,464.69 349.47,465.03 350.99,465.27 352.43,465.53 353.74,465.69 354.86,465.84 355.74,466.01 356.39,466.04 356.87,466.15 357.29,466.37 357.71,466.63 358.23,466.99 358.91,467.18 359.86,467.29 361.05,467.68 362.40,468.29 363.90,469.00 365.50,469.73 367.18,470.48 368.91,471.08 370.66,471.51 372.40,472.06 374.20,472.81 376.10,473.51 378.06,473.96 380.05,474.47 382.03,475.02 383.96,475.61 385.80,476.20 387.52,476.70 389.06,477.28 390.43,477.88 391.71,478.35 392.94,478.78 394.19,479.26 395.51,479.74 396.98,480.36 398.64,481.19 400.53,482.20 402.60,483.16 404.79,484.04 407.07,485.18 409.39,486.58 411.68,487.87 413.92,488.87 416.04,489.82 418.08,490.75 420.08,491.37 422.06,491.88 424.01,492.50 425.92,493.25 427.80,494.00 429.64,494.62 431.44,495.36 433.17,496.14 434.83,496.74 436.43,497.15 438.00,497.52 439.57,498.08 441.17,498.69 442.83,499.16 444.56,499.67 446.39,500.28 448.30,500.83 450.27,501.60 452.26,502.50 454.25,503.11 456.22,503.74 458.13,504.52 459.96,505.09 461.74,505.52 463.50,506.13 465.24,506.86 466.93,507.66 468.57,508.38 470.15,508.96 471.66,509.67 473.08,510.31 474.39,510.87 475.59,511.60 476.71,512.22 477.77,512.67 478.79,513.19 479.81,513.88 480.85,514.54 481.92,514.90 483.04,515.17 484.16,515.60 485.30,515.98 486.43,516.29 487.55,516.56 488.65,516.80 489.73,517.02 490.76,516.98 491.78,516.93 492.81,516.97 493.82,516.92 494.81,516.81 495.75,516.53 496.64,516.21 497.45,515.85 498.18,515.37 498.82,514.91 499.39,514.27 499.90,513.51 500.35,512.71 500.74,511.84 501.08,511.13 501.36,510.56 501.60,510.13"/>
<polyline fill="none" stroke="#f23a3a" stroke-width="1.1" stroke-linejoin="round" points="216.40,423.34 217.28,423.34 218.49,423.45 219.93,423.39 221.51,423.15 223.14,423.07 224.72,423.19 226.16,423.16 227.38,423.08 228.36,423.11 229.20,423.17 229.93,423.17 230.60,423.06 231.25,423.14 231.92,423.35 232.66,423.29 233.51,423.28 234.44,423.45 235.41,423.43 236.41,423.33 237.44,423.43 238.52,423.47 239.65,423.39 240.83,423.34 242.07,423.20 243.39,423.02 244.79,422.83 246.26,422.78 247.77,422.77 249.30,422.59 250.82,422.38 252.32,422.11 253.76,421.94 255.16,421.85 256.55,421.54 257.92,421.20 259.28,421.10 260.62,420.95 261.96,420.63 263.28,420.54 264.60,420.66 265.84,420.56 266.99,420.40 268.08,420.38 269.19,420.47 270.35,420.62 271.63,420.61 273.07,420.64 274.72,420.81 276.68,420.87 278.92,420.95 281.36,421.24 283.89,421.59 286.43,421.82 288.88,422.05 291.14,422.31 293.12,422.67 294.81,423.04 296.31,423.27 297.66,423.48 298.89,423.73 300.07,424.03 301.23,424.28 302.41,424.50 303.67,424.83 304.98,425.28 306.30,425.85 307.62,426.23 308.93,426.35 310.24,426.73 311.53,427.33 312.81,427.67 314.08,427.95 315.31,428.52 316.49,429.04 317.64,429.28 318.79,429.59 319.95,430.09 321.16,430.46 322.43,430.57 323.78,430.65 325.18,430.83 326.61,431.01 328.07,431.02 329.58,430.92 331.16,430.82 332.83,430.71 334.59,430.80 336.47,430.98 338.56,430.85 340.89,430.72 343.36,430.72 345.90,430.52 348.40,430.25 350.79,430.08 352.98,430.01 354.86,429.98 356.41,430.04 357.68,430.08 358.75,429.89 359.70,429.76 360.60,429.86 361.54,429.87 362.60,429.75 363.85,429.73 365.30,429.73 366.87,429.77 368.52,429.93 370.23,430.10 371.95,430.14 373.65,430.18 375.28,430.29 376.83,430.31 378.27,430.48 379.65,430.77 380.98,430.93 382.29,431.04 383.58,431.23 384.87,431.54 386.18,431.73 387.52,431.95 388.85,432.38 390.12,432.69 391.38,432.95 392.66,433.30 393.99,433.69 395.41,434.22 396.95,434.74 398.64,435.05 400.53,435.41 402.60,435.91 404.79,436.33 407.07,436.74 409.39,437.13 411.68,437.38 413.92,437.66 416.04,437.94 418.08,438.10 420.08,438.25 422.06,438.50 424.01,438.73 425.92,438.86 427.80,439.03 429.64,439.24 431.44,439.58 433.17,439.93 434.83,440.29 436.43,440.80 438.00,441.21 439.57,441.47 441.17,441.77 442.83,442.22 444.56,442.69 446.39,443.22 448.30,443.82 450.27,444.13 452.26,444.35 454.25,444.87 456.22,445.41 458.13,445.64 459.96,445.96 461.72,446.49 463.45,446.96 465.14,447.45 466.80,447.90 468.42,448.30 470.00,448.60 471.56,448.89 473.08,449.39 474.58,449.87 476.05,450.37 477.50,451.12 478.91,451.79 480.28,452.35 481.60,453.08 482.86,453.77 484.06,454.19 485.19,454.50 486.25,454.89 487.24,455.27 488.20,455.47 489.11,455.69 490.00,455.79 490.88,455.81 491.76,455.93 492.64,455.92 493.53,455.94 494.39,455.89 495.24,455.63 496.05,455.24 496.81,454.72 497.53,454.21 498.18,453.78 498.77,453.15 499.32,452.12 499.83,451.19 500.29,450.48 500.70,449.58 501.06,448.66 501.36,447.91 501.60,447.16"/>
<polyline fill="none" stroke="#3553b5" stroke-width="1.2" stroke-linejoin="round" points="216.40,423.34 217.10,423.31 218.04,423.31 219.17,423.40 220.41,423.45 221.70,423.45 222.98,423.60 224.18,423.80 225.24,423.96 226.17,424.07 227.04,424.07 227.87,424.30 228.66,424.65 229.44,424.82 230.21,424.95 231.00,425.20 231.80,425.48 232.62,425.53 233.44,425.27 234.27,424.97 235.09,424.79 235.91,424.45 236.73,424.05 237.55,423.83 238.36,423.60 239.15,423.42 239.91,423.39 240.66,423.35 241.42,423.37 242.19,423.39 243.00,423.19 243.85,422.98 244.78,422.92 245.78,422.69 246.85,422.31 247.97,421.87 249.13,421.27 250.30,420.77 251.48,420.54 252.63,420.37 253.76,420.03 254.85,419.53 255.90,419.02 256.94,418.69 257.99,418.32 259.04,417.69 260.13,417.11 261.27,416.71 262.46,416.45 263.72,416.11 265.04,415.52 266.41,414.89 267.81,414.28 269.22,413.76 270.64,413.31 272.05,412.65 273.44,411.96 274.83,411.49 276.24,411.01 277.66,410.43 279.07,409.85 280.47,409.20 281.84,408.53 283.16,408.08 284.42,407.87 285.63,407.59 286.80,407.13 287.94,406.80 289.04,406.67 290.10,406.62 291.14,406.62 292.14,406.51 293.12,406.13 294.04,405.59 294.89,405.23 295.69,405.13 296.47,404.78 297.25,404.20 298.05,403.84 298.90,403.69 299.82,403.47 300.77,403.06 301.70,402.90 302.65,403.03 303.64,402.98 304.69,402.92 305.84,402.99 307.10,403.04 308.52,403.05 310.10,403.04 311.83,403.12 313.68,403.41 315.62,403.90 317.63,404.35 319.68,404.61 321.74,404.87 323.78,405.18 325.88,405.39 328.11,405.45 330.40,405.52 332.71,405.72 334.97,405.87 337.12,405.92 339.11,405.78 340.89,405.56 342.42,405.52 343.75,405.46 344.92,405.34 345.99,405.19 347.00,404.95 348.00,404.87 349.03,404.84 350.16,404.61 351.38,404.38 352.64,404.00 353.93,403.45 355.21,403.04 356.47,402.77 357.68,402.42 358.82,401.93 359.86,401.52 360.67,401.43 361.25,401.52 361.68,401.37 362.10,401.16 362.61,401.18 363.33,401.11 364.37,401.00 365.84,400.94 367.90,400.66 370.51,400.45 373.48,400.50 376.63,400.55 379.79,400.46 382.78,400.41 385.41,400.41 387.52,400.36 389.01,400.25 390.03,400.16 390.71,400.18 391.21,400.20 391.68,400.36 392.26,400.60 393.11,400.74 394.36,400.96 396.03,401.35 397.97,401.82 400.11,402.24 402.39,402.78 404.76,403.51 407.16,404.17 409.51,404.79 411.76,405.57 413.96,406.31 416.19,407.09 418.43,408.08 420.67,409.00 422.89,409.82 425.07,410.81 427.22,411.72 429.30,412.37 431.36,412.95 433.43,413.57 435.49,414.26 437.49,415.13 439.43,415.93 441.27,416.54 442.99,417.26 444.56,417.92 445.92,418.30 447.07,418.62 448.07,419.01 448.99,419.41 449.89,419.89 450.83,420.38 451.89,420.76 453.12,421.22 454.51,421.71 455.99,422.09 457.55,422.65 459.18,423.35 460.84,423.87 462.54,424.47 464.25,425.24 465.95,425.93 467.71,426.49 469.58,427.11 471.51,427.78 473.44,428.42 475.32,429.06 477.11,429.70 478.76,430.30 480.21,430.80 481.44,431.35 482.48,432.00 483.38,432.41 484.18,432.69 484.94,433.02 485.68,433.21 486.47,433.58 487.34,433.99 488.30,434.18 489.30,434.52 490.33,434.85 491.36,434.92 492.37,434.86 493.33,434.86 494.23,435.02 495.04,435.21 495.77,435.30 496.43,435.30 497.04,435.30 497.60,435.23 498.11,435.18 498.59,435.04 499.04,434.81 499.46,434.66 499.85,434.28 500.21,433.83 500.52,433.40 500.81,432.77 501.05,432.05 501.27,431.42 501.45,431.02 501.60,430.82"/>
<line x1="216.40" y1="523.10" x2="216.40" y2="519.90" stroke="#5a5a5a" stroke-width="0.7"/>
<line x1="216.40" y1="397.40" x2="216.40" y2="400.60" stroke="#5a5a5a" stroke-width="0.7"/>
<line x1="244.92" y1="523.10" x2="244.92" y2="519.90" stroke="#5a5a5a" stroke-width="0.7"/>
<line x1="244.92" y1="397.40" x2="244.92" y2="400.60" stroke="#5a5a5a" stroke-width="0.7"/>
<line x1="273.44" y1="523.10" x2="273.44" y2="519.90" stroke="#5a5a5a" stroke-width="0.7"/>
<line x1="273.44" y1="397.40" x2="273.44" y2="400.60" stroke="#5a5a5a" stroke-width="0.7"/>
<line x1="301.96" y1="523.10" x2="301.96" y2="519.90" stroke="#5a5a5a" stroke-width="0.7"/>
<line x1="301.96" y1="397.40" x2="301.96" y2="400.60" stroke="#5a5a5a" stroke-width="0.7"/>
<line x1="330.48" y1="523.10" x2="330.48" y2="519.90" stroke="#5a5a5a" stroke-width="0.7"/>
<line x1="330.48" y1="397.40" x2="330.48" y2="400.60" stroke="#5a5a5a" stroke-width="0.7"/>
<line x1="359.00" y1="523.10" x2="359.00" y2="519.90" stroke="#5a5a5a" stroke-width="0.7"/>
<line x1="359.00" y1="397.40" x2="359.00" y2="400.60" stroke="#5a5a5a" stroke-width="0.7"/>
<line x1="387.52" y1="523.10" x2="387.52" y2="519.90" stroke="#5a5a5a" stroke-width="0.7"/>
<line x1="387.52" y1="397.40" x2="387.52" y2="400.60" stroke="#5a5a5a" stroke-width="0.7"/>
<line x1="416.04" y1="523.10" x2="416.04" y2="519.90" stroke="#5a5a5a" stroke-width="0.7"/>
<line x1="416.04" y1="397.40" x2="416.04" y2="400.60" stroke="#5a5a5a" stroke-width="0.7"/>
<line x1="444.56" y1="523.10" x2="444.56" y2="519.90" stroke="#5a5a5a" stroke-width="0.7"/>
<line x1="444.56" y1="397.40" x2="444.56" y2="400.60" stroke="#5a5a5a" stroke-width="0.7"/>
<line x1="473.08" y1="523.10" x2="473.08" y2="519.90" stroke="#5a5a5a" stroke-width="0.7"/>
<line x1="473.08" y1="397.40" x2="473.08" y2="400.60" stroke="#5a5a5a" stroke-width="0.7"/>
<line x1="501.60" y1="523.10" x2="501.60" y2="519.90" stroke="#5a5a5a" stroke-width="0.7"/>
<line x1="501.60" y1="397.40" x2="501.60" y2="400.60" stroke="#5a5a5a" stroke-width="0.7"/>
<line x1="216.40" y1="498.16" x2="219.60" y2="498.16" stroke="#5a5a5a" stroke-width="0.7"/>
<line x1="501.60" y1="498.16" x2="498.40" y2="498.16" stroke="#5a5a5a" stroke-width="0.7"/>
<line x1="216.40" y1="473.22" x2="219.60" y2="473.22" stroke="#5a5a5a" stroke-width="0.7"/>
<line x1="501.60" y1="473.22" x2="498.40" y2="473.22" stroke="#5a5a5a" stroke-width="0.7"/>
<line x1="216.40" y1="448.28" x2="219.60" y2="448.28" stroke="#5a5a5a" stroke-width="0.7"/>
<line x1="501.60" y1="448.28" x2="498.40" y2="448.28" stroke="#5a5a5a" stroke-width="0.7"/>
<line x1="216.40" y1="423.34" x2="219.60" y2="423.34" stroke="#5a5a5a" stroke-width="0.7"/>
<line x1="501.60" y1="423.34" x2="498.40" y2="423.34" stroke="#5a5a5a" stroke-width="0.7"/>
<line x1="216.40" y1="398.40" x2="219.60" y2="398.40" stroke="#5a5a5a" stroke-width="0.7"/>
<line x1="501.60" y1="398.40" x2="498.40" y2="398.40" stroke="#5a5a5a" stroke-width="0.7"/>
<line x1="216.40" y1="397.40" x2="501.60" y2="397.40" stroke="#5a5a5a" stroke-width="0.9" stroke-linecap="square"/>
<line x1="216.40" y1="523.10" x2="501.60" y2="523.10" stroke="#5a5a5a" stroke-width="0.9" stroke-linecap="square"/>
<line x1="216.40" y1="397.40" x2="216.40" y2="523.10" stroke="#5a5a5a" stroke-width="0.9" stroke-linecap="square"/>
<line x1="501.60" y1="397.40" x2="501.60" y2="523.10" stroke="#9c9c9c" stroke-width="1.3" stroke-linecap="square"/>
<text transform="translate(216.40,533.50) scale(0.950,1)" font-size="7.4" text-anchor="middle" fill="#333333">0</text>
<text transform="translate(244.92,533.50) scale(0.950,1)" font-size="7.4" text-anchor="middle" fill="#333333">20</text>
<text transform="translate(273.44,533.50) scale(0.950,1)" font-size="7.4" text-anchor="middle" fill="#333333">40</text>
<text transform="translate(301.96,533.50) scale(0.950,1)" font-size="7.4" text-anchor="middle" fill="#333333">60</text>
<text transform="translate(330.48,533.50) scale(0.950,1)" font-size="7.4" text-anchor="middle" fill="#333333">80</text>
<text transform="translate(359.00,533.50) scale(0.950,1)" font-size="7.4" text-anchor="middle" fill="#333333">100</text>
<text transform="translate(387.52,533.50) scale(0.950,1)" font-size="7.4" text-anchor="middle" fill="#333333">120</text>
<text transform="translate(416.04,533.50) scale(0.950,1)" font-size="7.4" text-anchor="middle" fill="#333333">140</text>
<text transform="translate(444.56,533.50) scale(0.950,1)" font-size="7.4" text-anchor="middle" fill="#333333">160</text>
<text transform="translate(473.08,533.50) scale(0.950,1)" font-size="7.4" text-anchor="middle" fill="#333333">180</text>
<text transform="translate(501.60,533.50) scale(0.950,1)" font-size="7.4" text-anchor="middle" fill="#333333">200</text>
<text transform="translate(213.20,501.42) scale(0.950,1)" font-size="7.4" text-anchor="end" fill="#333333">-6</text>
<text transform="translate(213.20,476.48) scale(0.950,1)" font-size="7.4" text-anchor="end" fill="#333333">-4</text>
<text transform="translate(213.20,451.54) scale(0.950,1)" font-size="7.4" text-anchor="end" fill="#333333">-2</text>
<text transform="translate(213.20,426.60) scale(0.950,1)" font-size="7.4" text-anchor="end" fill="#333333">0</text>
<text transform="translate(213.20,401.66) scale(0.950,1)" font-size="7.4" text-anchor="end" fill="#333333">2</text>
<text transform="translate(201.90,461.40) scale(1.000,1) rotate(-90)" font-size="10.0" text-anchor="middle" fill="#333333">Amplitude(dB)</text>
<rect x="454.50" y="403.40" width="41.20" height="33.90" fill="#ffffff" stroke="#555555" stroke-width="0.8"/>
<line x1="456.60" y1="409.30" x2="478.80" y2="409.30" stroke="#2a2a2a" stroke-width="1.1"/>
<text transform="translate(480.60,412.49) scale(0.860,1)" font-size="8.4" fill="#4a4a4a" font-family='"Liberation Serif", "Times New Roman", serif'>10%</text>
<line x1="456.60" y1="420.30" x2="478.80" y2="420.30" stroke="#f23a3a" stroke-width="1.1"/>
<text transform="translate(480.60,423.49) scale(0.860,1)" font-size="8.4" fill="#4a4a4a" font-family='"Liberation Serif", "Times New Roman", serif'>25%</text>
<line x1="456.60" y1="431.20" x2="478.80" y2="431.20" stroke="#5068c0" stroke-width="1.7"/>
<text transform="translate(480.60,434.39) scale(0.860,1)" font-size="8.4" fill="#4a4a4a" font-family='"Liberation Serif", "Times New Roman", serif'>40%</text>
<rect x="298.10" y="461.80" width="35.00" height="25.80" rx="1.2" fill="none" stroke="#d0d0d0" stroke-width="1.2"/>
<rect x="297.60" y="461.20" width="35.00" height="25.80" rx="1" fill="#ffffff" stroke="#c4c4c4" stroke-width="0.9"/>
<text x="301.00" y="472.24" font-size="7.0" fill="#3a3a3a">X <tspan fill="#2f62c0" font-weight="bold">82.09</tspan></text>
<text x="301.00" y="482.74" font-size="7.0" fill="#3a3a3a">Y <tspan fill="#2f62c0" font-weight="bold">-3.001</tspan></text>
<line x1="244.93" y1="571.60" x2="244.93" y2="697.40" stroke="#e9e9e9" stroke-width="0.8"/>
<line x1="273.46" y1="571.60" x2="273.46" y2="697.40" stroke="#e9e9e9" stroke-width="0.8"/>
<line x1="301.99" y1="571.60" x2="301.99" y2="697.40" stroke="#e9e9e9" stroke-width="0.8"/>
<line x1="330.52" y1="571.60" x2="330.52" y2="697.40" stroke="#e9e9e9" stroke-width="0.8"/>
<line x1="359.05" y1="571.60" x2="359.05" y2="697.40" stroke="#e9e9e9" stroke-width="0.8"/>
<line x1="387.58" y1="571.60" x2="387.58" y2="697.40" stroke="#e9e9e9" stroke-width="0.8"/>
<line x1="416.11" y1="571.60" x2="416.11" y2="697.40" stroke="#e9e9e9" stroke-width="0.8"/>
<line x1="444.64" y1="571.60" x2="444.64" y2="697.40" stroke="#e9e9e9" stroke-width="0.8"/>
<line x1="473.17" y1="571.60" x2="473.17" y2="697.40" stroke="#e9e9e9" stroke-width="0.8"/>
<line x1="216.40" y1="679.43" x2="501.70" y2="679.43" stroke="#e9e9e9" stroke-width="0.8"/>
<line x1="216.40" y1="661.46" x2="501.70" y2="661.46" stroke="#e9e9e9" stroke-width="0.8"/>
<line x1="216.40" y1="643.49" x2="501.70" y2="643.49" stroke="#e9e9e9" stroke-width="0.8"/>
<line x1="216.40" y1="625.51" x2="501.70" y2="625.51" stroke="#e9e9e9" stroke-width="0.8"/>
<line x1="216.40" y1="607.54" x2="501.70" y2="607.54" stroke="#e9e9e9" stroke-width="0.8"/>
<line x1="216.40" y1="589.57" x2="501.70" y2="589.57" stroke="#e9e9e9" stroke-width="0.8"/>
<polyline fill="none" stroke="#2a2a2a" stroke-width="1.0" stroke-linejoin="round" points="216.40,571.60 216.90,571.91 217.55,572.44 218.33,573.06 219.20,573.78 220.13,574.48 221.09,575.07 222.04,575.53 222.96,575.77 223.89,575.94 224.88,575.98 225.91,575.94 226.95,575.92 227.97,575.83 228.94,575.91 229.85,575.99 230.66,576.08 231.37,576.63 232.00,577.31 232.56,577.81 233.08,578.38 233.57,579.28 234.06,580.17 234.56,580.76 235.09,581.27 235.65,581.77 236.22,582.30 236.80,582.79 237.37,583.05 237.93,583.35 238.48,583.84 239.01,584.20 239.51,584.26 239.92,584.59 240.23,585.30 240.48,585.82 240.74,586.10 241.05,586.29 241.46,586.47 242.02,586.78 242.79,587.24 243.77,587.58 244.89,587.85 246.16,588.30 247.53,588.54 249.00,588.71 250.55,589.21 252.14,589.82 253.77,590.47 255.54,591.27 257.51,592.26 259.59,593.36 261.72,594.55 263.81,595.66 265.77,596.63 267.54,597.67 269.04,598.69 270.18,599.51 271.01,600.14 271.63,600.71 272.13,601.16 272.63,601.48 273.21,601.91 273.98,602.65 275.03,603.59 276.38,604.47 277.92,605.42 279.62,606.42 281.42,607.31 283.28,608.30 285.15,609.47 286.98,610.63 288.72,611.85 290.43,613.28 292.18,614.52 293.93,615.51 295.67,616.79 297.37,618.11 299.00,619.03 300.55,619.84 301.99,620.77 303.30,621.55 304.49,622.18 305.59,622.94 306.63,623.92 307.63,624.67 308.62,625.02 309.64,625.49 310.69,626.09 311.75,626.61 312.76,627.27 313.76,627.87 314.77,628.12 315.81,628.26 316.91,628.57 318.09,629.10 319.39,629.75 320.84,630.20 322.41,630.26 324.08,630.27 325.81,630.52 327.56,630.80 329.28,630.96 330.95,631.23 332.52,631.76 333.99,632.20 335.40,632.50 336.77,632.99 338.12,633.38 339.44,633.50 340.78,633.67 342.12,634.11 343.50,634.76 344.95,635.38 346.47,635.76 348.03,636.03 349.58,636.39 351.09,636.83 352.50,637.35 353.79,637.82 354.91,638.14 355.68,638.59 356.05,639.00 356.21,639.04 356.32,639.09 356.57,639.30 357.13,639.59 358.19,640.09 359.91,640.81 362.38,641.75 365.47,643.03 369.03,644.74 372.91,646.56 376.97,648.20 381.06,649.71 385.02,651.28 388.72,652.74 392.17,653.67 395.53,654.26 398.85,654.93 402.15,655.71 405.48,656.53 408.90,657.26 412.42,658.05 416.11,659.14 420.04,660.64 424.20,662.38 428.50,664.04 432.87,665.68 437.21,667.54 441.44,669.31 445.47,670.92 449.20,672.39 452.74,673.56 456.19,674.66 459.52,675.80 462.70,676.96 465.69,677.80 468.46,678.43 470.96,679.32 473.17,680.29 475.00,681.04 476.44,681.58 477.59,682.12 478.54,682.72 479.36,683.22 480.16,683.57 481.01,684.02 482.01,684.53 483.13,684.86 484.26,685.24 485.39,685.78 486.53,686.30 487.65,686.85 488.75,687.37 489.82,687.60 490.86,687.50 491.89,687.67 492.94,688.16 493.98,688.42 495.00,688.49 495.95,688.47 496.84,688.24 497.62,687.77 498.28,687.50 498.79,687.45 499.17,687.10 499.45,686.59 499.65,686.17 499.80,685.50 499.94,684.83 500.09,684.31 500.27,683.67 500.49,682.97 500.70,682.27 500.91,681.55 501.11,680.99 501.29,680.59 501.46,680.12 501.59,679.54 501.70,678.98"/>
<polyline fill="none" stroke="#f23a3a" stroke-width="1.1" stroke-linejoin="round" points="216.40,571.60 216.89,572.11 217.53,572.47 218.28,572.76 219.13,573.29 220.05,573.85 221.01,574.16 221.99,574.28 222.96,574.51 223.99,574.93 225.12,575.16 226.31,575.13 227.52,575.10 228.71,575.21 229.85,575.48 230.90,575.62 231.81,575.72 232.56,575.93 233.17,576.15 233.69,576.67 234.16,577.11 234.61,577.36 235.08,577.86 235.60,578.45 236.23,578.85 236.93,579.12 237.67,579.65 238.44,580.31 239.24,580.70 240.08,580.92 240.95,581.37 241.85,581.99 242.79,582.40 243.77,582.56 244.81,582.59 245.89,582.78 247.00,583.00 248.12,582.89 249.26,582.65 250.38,582.65 251.49,582.93 252.58,583.32 253.65,583.71 254.71,584.06 255.78,584.34 256.87,584.77 257.98,585.16 259.13,585.40 260.34,585.96 261.58,586.63 262.85,587.05 264.16,587.46 265.49,588.13 266.86,588.88 268.26,589.50 269.70,590.22 271.18,590.98 272.71,591.57 274.29,592.23 275.93,593.18 277.59,594.04 279.27,594.59 280.96,595.35 282.64,596.29 284.30,596.93 285.97,597.37 287.66,598.06 289.37,598.96 291.08,599.67 292.76,600.28 294.42,600.97 296.02,601.77 297.57,602.42 299.01,602.80 300.34,603.36 301.61,604.25 302.85,604.74 304.12,604.96 305.43,605.55 306.85,606.19 308.41,606.69 310.10,607.38 311.89,608.04 313.76,608.46 315.70,608.81 317.69,609.25 319.72,609.76 321.76,610.25 323.82,610.73 325.92,611.36 328.11,612.02 330.36,612.47 332.62,612.92 334.88,613.39 337.08,613.59 339.21,613.85 341.22,614.37 343.17,614.90 345.11,615.66 347.01,616.46 348.84,617.02 350.58,617.46 352.19,617.88 353.64,618.50 354.91,619.13 355.80,619.46 356.24,619.61 356.43,619.60 356.54,619.57 356.75,619.79 357.27,620.14 358.26,620.46 359.91,620.97 362.27,621.83 365.21,622.89 368.58,624.03 372.27,625.38 376.14,626.90 380.07,628.18 383.92,629.29 387.58,630.51 391.08,631.83 394.55,633.15 398.03,634.56 401.52,636.16 405.06,637.60 408.66,639.00 412.33,640.44 416.11,641.72 420.06,643.15 424.21,644.66 428.48,645.98 432.78,647.24 437.05,648.65 441.22,650.16 445.20,651.40 448.92,652.41 452.38,653.59 455.64,654.87 458.74,656.03 461.72,657.06 464.62,658.08 467.47,659.28 470.31,660.49 473.17,661.52 476.15,662.48 479.23,663.56 482.35,664.75 485.39,665.88 488.29,666.80 490.93,667.55 493.25,668.46 495.14,669.33 496.55,669.63 497.53,669.58 498.18,669.42 498.59,669.04 498.84,668.69 499.03,668.49 499.24,668.10 499.56,667.57 499.95,667.31 500.31,667.01 500.62,666.47 500.91,665.75 501.15,665.01 501.37,664.59 501.55,664.09 501.70,663.61"/>
<polyline fill="none" stroke="#3553b5" stroke-width="1.2" stroke-linejoin="round" points="216.40,571.60 216.89,571.79 217.53,572.04 218.28,572.36 219.13,572.89 220.05,573.36 221.01,573.72 221.99,573.95 222.96,574.04 223.97,574.12 225.07,574.15 226.21,573.99 227.38,573.88 228.56,573.82 229.70,573.72 230.79,573.52 231.81,573.23 232.74,573.32 233.61,573.74 234.44,574.00 235.24,574.24 236.02,574.77 236.79,575.30 237.57,575.49 238.37,575.46 239.18,575.47 239.98,575.74 240.77,576.08 241.57,576.20 242.37,576.31 243.17,576.44 243.97,576.47 244.79,576.56 245.57,576.62 246.29,576.46 247.00,576.13 247.72,575.94 248.49,576.06 249.36,576.11 250.34,575.98 251.49,576.13 252.85,576.30 254.42,576.34 256.12,576.68 257.91,577.20 259.72,577.57 261.48,577.90 263.13,578.22 264.62,578.56 265.91,579.05 267.06,579.44 268.11,579.66 269.12,579.98 270.12,580.49 271.17,580.90 272.32,581.06 273.60,581.23 275.02,581.61 276.51,582.09 278.07,582.68 279.69,583.43 281.36,583.99 283.07,584.56 284.82,585.37 286.58,586.10 288.42,586.86 290.37,587.70 292.38,588.48 294.42,589.38 296.44,590.26 298.40,590.97 300.27,591.89 301.99,592.75 303.53,593.33 304.92,593.82 306.20,594.18 307.42,594.61 308.64,595.10 309.92,595.69 311.30,596.26 312.83,596.70 314.54,597.42 316.39,598.27 318.33,598.84 320.32,599.58 322.33,600.56 324.33,601.14 326.26,601.57 328.09,602.18 329.83,602.59 331.51,603.04 333.15,603.63 334.75,603.99 336.35,604.19 337.95,604.50 339.57,604.85 341.22,605.11 342.96,605.50 344.81,606.19 346.69,606.74 348.57,607.07 350.39,607.51 352.09,608.03 353.61,608.42 354.91,608.84 355.80,609.30 356.24,609.39 356.43,609.13 356.54,609.17 356.75,609.61 357.27,610.00 358.26,610.23 359.91,610.55 362.27,611.39 365.21,612.77 368.58,614.18 372.27,615.46 376.14,616.88 380.07,618.32 383.92,619.69 387.58,620.99 391.11,622.07 394.65,623.36 398.22,625.00 401.79,626.50 405.37,627.75 408.96,628.90 412.54,630.27 416.11,631.70 419.67,632.97 423.23,634.42 426.78,636.08 430.34,637.64 433.90,638.93 437.47,640.10 441.05,641.40 444.64,642.81 448.36,644.29 452.26,645.53 456.23,646.65 460.18,648.07 464.00,649.28 467.61,650.13 470.88,651.15 473.74,652.21 476.13,653.09 478.11,653.90 479.78,654.79 481.23,655.70 482.53,656.31 483.78,656.90 485.05,657.73 486.44,658.31 487.92,658.72 489.43,659.40 490.92,660.00 492.37,660.26 493.76,660.53 495.06,660.99 496.24,661.28 497.28,661.19 498.17,660.58 498.94,659.65 499.60,658.65 500.17,657.39 500.65,656.22 501.06,655.32 501.40,654.50 501.70,653.82"/>
<line x1="216.40" y1="697.40" x2="216.40" y2="694.20" stroke="#5a5a5a" stroke-width="0.7"/>
<line x1="216.40" y1="571.60" x2="216.40" y2="574.80" stroke="#5a5a5a" stroke-width="0.7"/>
<line x1="244.93" y1="697.40" x2="244.93" y2="694.20" stroke="#5a5a5a" stroke-width="0.7"/>
<line x1="244.93" y1="571.60" x2="244.93" y2="574.80" stroke="#5a5a5a" stroke-width="0.7"/>
<line x1="273.46" y1="697.40" x2="273.46" y2="694.20" stroke="#5a5a5a" stroke-width="0.7"/>
<line x1="273.46" y1="571.60" x2="273.46" y2="574.80" stroke="#5a5a5a" stroke-width="0.7"/>
<line x1="301.99" y1="697.40" x2="301.99" y2="694.20" stroke="#5a5a5a" stroke-width="0.7"/>
<line x1="301.99" y1="571.60" x2="301.99" y2="574.80" stroke="#5a5a5a" stroke-width="0.7"/>
<line x1="330.52" y1="697.40" x2="330.52" y2="694.20" stroke="#5a5a5a" stroke-width="0.7"/>
<line x1="330.52" y1="571.60" x2="330.52" y2="574.80" stroke="#5a5a5a" stroke-width="0.7"/>
<line x1="359.05" y1="697.40" x2="359.05" y2="694.20" stroke="#5a5a5a" stroke-width="0.7"/>
<line x1="359.05" y1="571.60" x2="359.05" y2="574.80" stroke="#5a5a5a" stroke-width="0.7"/>
<line x1="387.58" y1="697.40" x2="387.58" y2="694.20" stroke="#5a5a5a" stroke-width="0.7"/>
<line x1="387.58" y1="571.60" x2="387.58" y2="574.80" stroke="#5a5a5a" stroke-width="0.7"/>
<line x1="416.11" y1="697.40" x2="416.11" y2="694.20" stroke="#5a5a5a" stroke-width="0.7"/>
<line x1="416.11" y1="571.60" x2="416.11" y2="574.80" stroke="#5a5a5a" stroke-width="0.7"/>
<line x1="444.64" y1="697.40" x2="444.64" y2="694.20" stroke="#5a5a5a" stroke-width="0.7"/>
<line x1="444.64" y1="571.60" x2="444.64" y2="574.80" stroke="#5a5a5a" stroke-width="0.7"/>
<line x1="473.17" y1="697.40" x2="473.17" y2="694.20" stroke="#5a5a5a" stroke-width="0.7"/>
<line x1="473.17" y1="571.60" x2="473.17" y2="574.80" stroke="#5a5a5a" stroke-width="0.7"/>
<line x1="501.70" y1="697.40" x2="501.70" y2="694.20" stroke="#5a5a5a" stroke-width="0.7"/>
<line x1="501.70" y1="571.60" x2="501.70" y2="574.80" stroke="#5a5a5a" stroke-width="0.7"/>
<line x1="216.40" y1="697.40" x2="219.60" y2="697.40" stroke="#5a5a5a" stroke-width="0.7"/>
<line x1="501.70" y1="697.40" x2="498.50" y2="697.40" stroke="#5a5a5a" stroke-width="0.7"/>
<line x1="216.40" y1="679.43" x2="219.60" y2="679.43" stroke="#5a5a5a" stroke-width="0.7"/>
<line x1="501.70" y1="679.43" x2="498.50" y2="679.43" stroke="#5a5a5a" stroke-width="0.7"/>
<line x1="216.40" y1="661.46" x2="219.60" y2="661.46" stroke="#5a5a5a" stroke-width="0.7"/>
<line x1="501.70" y1="661.46" x2="498.50" y2="661.46" stroke="#5a5a5a" stroke-width="0.7"/>
<line x1="216.40" y1="643.49" x2="219.60" y2="643.49" stroke="#5a5a5a" stroke-width="0.7"/>
<line x1="501.70" y1="643.49" x2="498.50" y2="643.49" stroke="#5a5a5a" stroke-width="0.7"/>
<line x1="216.40" y1="625.51" x2="219.60" y2="625.51" stroke="#5a5a5a" stroke-width="0.7"/>
<line x1="501.70" y1="625.51" x2="498.50" y2="625.51" stroke="#5a5a5a" stroke-width="0.7"/>
<line x1="216.40" y1="607.54" x2="219.60" y2="607.54" stroke="#5a5a5a" stroke-width="0.7"/>
<line x1="501.70" y1="607.54" x2="498.50" y2="607.54" stroke="#5a5a5a" stroke-width="0.7"/>
<line x1="216.40" y1="589.57" x2="219.60" y2="589.57" stroke="#5a5a5a" stroke-width="0.7"/>
<line x1="501.70" y1="589.57" x2="498.50" y2="589.57" stroke="#5a5a5a" stroke-width="0.7"/>
<line x1="216.40" y1="571.60" x2="219.60" y2="571.60" stroke="#5a5a5a" stroke-width="0.7"/>
<line x1="501.70" y1="571.60" x2="498.50" y2="571.60" stroke="#5a5a5a" stroke-width="0.7"/>
<line x1="216.40" y1="571.60" x2="501.70" y2="571.60" stroke="#5a5a5a" stroke-width="0.9" stroke-linecap="square"/>
<line x1="216.40" y1="697.40" x2="501.70" y2="697.40" stroke="#5a5a5a" stroke-width="0.9" stroke-linecap="square"/>
<line x1="216.40" y1="571.60" x2="216.40" y2="697.40" stroke="#5a5a5a" stroke-width="0.9" stroke-linecap="square"/>
<line x1="501.70" y1="571.60" x2="501.70" y2="697.40" stroke="#9c9c9c" stroke-width="1.3" stroke-linecap="square"/>
<text transform="translate(216.40,707.60) scale(0.950,1)" font-size="7.4" text-anchor="middle" fill="#333333">0</text>
<text transform="translate(244.93,707.60) scale(0.950,1)" font-size="7.4" text-anchor="middle" fill="#333333">20</text>
<text transform="translate(273.46,707.60) scale(0.950,1)" font-size="7.4" text-anchor="middle" fill="#333333">40</text>
<text transform="translate(301.99,707.60) scale(0.950,1)" font-size="7.4" text-anchor="middle" fill="#333333">60</text>
<text transform="translate(330.52,707.60) scale(0.950,1)" font-size="7.4" text-anchor="middle" fill="#333333">80</text>
<text transform="translate(359.05,707.60) scale(0.950,1)" font-size="7.4" text-anchor="middle" fill="#333333">100</text>
<text transform="translate(387.58,707.60) scale(0.950,1)" font-size="7.4" text-anchor="middle" fill="#333333">120</text>
<text transform="translate(416.11,707.60) scale(0.950,1)" font-size="7.4" text-anchor="middle" fill="#333333">140</text>
<text transform="translate(444.64,707.60) scale(0.950,1)" font-size="7.4" text-anchor="middle" fill="#333333">160</text>
<text transform="translate(473.17,707.60) scale(0.950,1)" font-size="7.4" text-anchor="middle" fill="#333333">180</text>
<text transform="translate(501.70,707.60) scale(0.950,1)" font-size="7.4" text-anchor="middle" fill="#333333">200</text>
<text transform="translate(213.40,700.56) scale(0.950,1)" font-size="7.4" text-anchor="end" fill="#333333">-140</text>
<text transform="translate(213.40,682.59) scale(0.950,1)" font-size="7.4" text-anchor="end" fill="#333333">-120</text>
<text transform="translate(213.40,664.62) scale(0.950,1)" font-size="7.4" text-anchor="end" fill="#333333">-100</text>
<text transform="translate(213.40,646.65) scale(0.950,1)" font-size="7.4" text-anchor="end" fill="#333333">-80</text>
<text transform="translate(213.40,628.68) scale(0.950,1)" font-size="7.4" text-anchor="end" fill="#333333">-60</text>
<text transform="translate(213.40,610.71) scale(0.950,1)" font-size="7.4" text-anchor="end" fill="#333333">-40</text>
<text transform="translate(213.40,592.74) scale(0.950,1)" font-size="7.4" text-anchor="end" fill="#333333">-20</text>
<text transform="translate(213.40,574.76) scale(0.950,1)" font-size="7.4" text-anchor="end" fill="#333333">0</text>
<text transform="translate(193.70,634.50) scale(1.030,1) rotate(-90)" font-size="10.2" text-anchor="middle" fill="#333333">Phase(°)</text>
<text x="318.16" y="719.40" font-size="10.0" fill="#333333">Frequency</text>
<text x="364.95" y="719.40" font-size="10.0" fill="#333333" font-family='"Liberation Sans", "Noto Sans CJK SC", sans-serif'>（</text>
<text x="376.56" y="719.40" font-size="10.0" fill="#333333">Hz</text>
<text x="390.17" y="719.40" font-size="10.0" fill="#333333" font-family='"Liberation Sans", "Noto Sans CJK SC", sans-serif'>）</text>
<rect x="454.50" y="577.40" width="41.20" height="34.00" fill="#ffffff" stroke="#555555" stroke-width="0.8"/>
<line x1="456.60" y1="583.60" x2="478.80" y2="583.60" stroke="#2a2a2a" stroke-width="1.1"/>
<text transform="translate(480.60,586.79) scale(0.860,1)" font-size="8.4" fill="#4a4a4a" font-family='"Liberation Serif", "Times New Roman", serif'>10%</text>
<line x1="456.60" y1="594.30" x2="478.80" y2="594.30" stroke="#f23a3a" stroke-width="1.1"/>
<text transform="translate(480.60,597.49) scale(0.860,1)" font-size="8.4" fill="#4a4a4a" font-family='"Liberation Serif", "Times New Roman", serif'>25%</text>
<line x1="456.60" y1="605.10" x2="478.80" y2="605.10" stroke="#5068c0" stroke-width="1.7"/>
<text transform="translate(480.60,608.29) scale(0.860,1)" font-size="8.4" fill="#4a4a4a" font-family='"Liberation Serif", "Times New Roman", serif'>40%</text>
<rect x="353.30" y="653.80" width="35.00" height="25.70" rx="1.2" fill="none" stroke="#d0d0d0" stroke-width="1.2"/>
<rect x="352.80" y="653.20" width="35.00" height="25.70" rx="1" fill="#f1f3f7" stroke="#b4b4b4" stroke-width="0.9"/>
<text x="356.20" y="664.20" font-size="7.0" fill="#8f8f8f">X <tspan fill="#2f62c0" font-weight="bold">120.8</tspan></text>
<text x="356.20" y="674.66" font-size="7.0" fill="#8f8f8f">Y <tspan fill="#2f62c0" font-weight="bold">-90.11</tspan></text>
<rect x="412.90" y="653.80" width="36.30" height="25.70" rx="1.2" fill="none" stroke="#d0d0d0" stroke-width="1.2"/>
<rect x="412.40" y="653.20" width="36.30" height="25.70" rx="1" fill="#f1f3f7" stroke="#b4b4b4" stroke-width="0.9"/>
<text x="415.80" y="664.20" font-size="7.0" fill="#8f8f8f">X <tspan fill="#2f62c0" font-weight="bold">163</tspan></text>
<text x="415.80" y="674.66" font-size="7.0" fill="#8f8f8f">Y <tspan fill="#2f62c0" font-weight="bold">-90.01</tspan></text>
<rect x="475.00" y="626.10" width="35.90" height="26.20" rx="1.2" fill="none" stroke="#d0d0d0" stroke-width="1.2"/>
<rect x="474.50" y="625.50" width="35.90" height="26.20" rx="1" fill="#f1f3f7" stroke="#b4b4b4" stroke-width="0.9"/>
<text x="477.90" y="636.71" font-size="7.0" fill="#8f8f8f">X <tspan fill="#2f62c0" font-weight="bold">180.4</tspan></text>
<text x="477.90" y="647.38" font-size="7.0" fill="#8f8f8f">Y <tspan fill="#2f62c0" font-weight="bold">-89.95</tspan></text>
<circle cx="114.12" cy="54.04" r="1.4" fill="#2b2b2b" stroke="#e6e6a8" stroke-width="0.6"/>
<circle cx="138.47" cy="54.03" r="1.4" fill="#2b2b2b" stroke="#e6e6a8" stroke-width="0.6"/>
<circle cx="216.76" cy="54.08" r="1.4" fill="#2b2b2b" stroke="#e6e6a8" stroke-width="0.6"/>
<circle cx="507.13" cy="48.20" r="1.4" fill="#2b2b2b" stroke="#e6e6a8" stroke-width="0.6"/>
<circle cx="514.53" cy="48.55" r="1.4" fill="#2b2b2b" stroke="#e6e6a8" stroke-width="0.6"/>
<circle cx="504.52" cy="48.41" r="1.4" fill="#2b2b2b" stroke="#e6e6a8" stroke-width="0.6"/>
<circle cx="137.15" cy="234.32" r="1.4" fill="#2b2b2b" stroke="#e6e6a8" stroke-width="0.6"/>
<circle cx="165.42" cy="234.13" r="1.4" fill="#2b2b2b" stroke="#e6e6a8" stroke-width="0.6"/>
<circle cx="177.15" cy="234.28" r="1.4" fill="#2b2b2b" stroke="#e6e6a8" stroke-width="0.6"/>
<circle cx="521.54" cy="234.33" r="1.4" fill="#2b2b2b" stroke="#e6e6a8" stroke-width="0.6"/>
<circle cx="533.72" cy="234.25" r="1.4" fill="#2b2b2b" stroke="#e6e6a8" stroke-width="0.6"/>
<circle cx="535.88" cy="234.23" r="1.4" fill="#2b2b2b" stroke="#e6e6a8" stroke-width="0.6"/>
<circle cx="333.46" cy="460.76" r="1.4" fill="#2b2b2b" stroke="#e6e6a8" stroke-width="0.6"/>
<circle cx="388.72" cy="652.57" r="1.4" fill="#2b2b2b" stroke="#e6e6a8" stroke-width="0.6"/>
<circle cx="448.92" cy="652.48" r="1.4" fill="#2b2b2b" stroke="#e6e6a8" stroke-width="0.6"/>
<circle cx="473.74" cy="652.43" r="1.4" fill="#2b2b2b" stroke="#e6e6a8" stroke-width="0.6"/>
<text x="95.8" y="365.2" font-size="20.2" fill="#1a1a1a" font-family='"Liberation Serif", "Times New Roman", serif'>(a) Different α</text>
<text x="461.0" y="366.5" font-size="20.2" fill="#1a1a1a" font-family='"Liberation Serif", "Times New Roman", serif'>(b) Different h</text>
<text x="302.8" y="759.4" font-size="20.2" fill="#1a1a1a" font-family='"Liberation Serif", "Times New Roman", serif'>(c) Different k</text>
</svg>
</body></html>
